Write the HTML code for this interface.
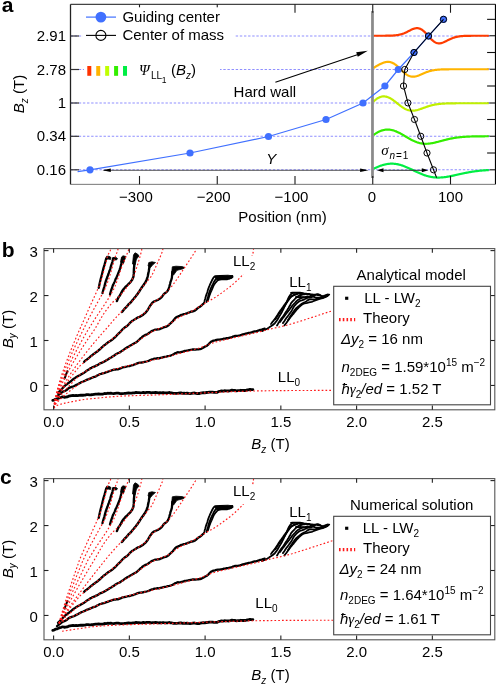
<!DOCTYPE html>
<html><head><meta charset="utf-8"><style>
html,body{margin:0;padding:0;background:#fff;}
svg{display:block;font-family:'Liberation Sans',Arial,Helvetica,sans-serif;}
</style></head><body>
<svg width="496" height="685" viewBox="0 0 496 685">
<rect width="496" height="685" fill="#fff"/>
<line x1="487.1" y1="19.35" x2="495.5" y2="19.35" stroke="#111" stroke-width="1.1"/>
<line x1="487.1" y1="35.75" x2="495.5" y2="35.75" stroke="#111" stroke-width="1.1"/>
<line x1="487.1" y1="52.5" x2="495.5" y2="52.5" stroke="#111" stroke-width="1.1"/>
<line x1="487.1" y1="69.25" x2="495.5" y2="69.25" stroke="#111" stroke-width="1.1"/>
<line x1="487.1" y1="86" x2="495.5" y2="86" stroke="#111" stroke-width="1.1"/>
<line x1="487.1" y1="103" x2="495.5" y2="103" stroke="#111" stroke-width="1.1"/>
<line x1="487.1" y1="119.5" x2="495.5" y2="119.5" stroke="#111" stroke-width="1.1"/>
<line x1="487.1" y1="136.25" x2="495.5" y2="136.25" stroke="#111" stroke-width="1.1"/>
<line x1="487.1" y1="153" x2="495.5" y2="153" stroke="#111" stroke-width="1.1"/>
<line x1="487.1" y1="169.8" x2="495.5" y2="169.8" stroke="#111" stroke-width="1.1"/>
<line x1="70.5" y1="36" x2="491" y2="36" stroke="#8f8fff" stroke-width="1.1" stroke-dasharray="2.4 1.73"/>
<line x1="70.5" y1="69.5" x2="491" y2="69.5" stroke="#8f8fff" stroke-width="1.1" stroke-dasharray="2.4 1.73"/>
<line x1="70.5" y1="103" x2="491" y2="103" stroke="#8f8fff" stroke-width="1.1" stroke-dasharray="2.4 1.73"/>
<line x1="70.5" y1="136.3" x2="491" y2="136.3" stroke="#8f8fff" stroke-width="1.1" stroke-dasharray="2.4 1.73"/>
<line x1="70.5" y1="169.8" x2="491" y2="169.8" stroke="#8f8fff" stroke-width="1.1" stroke-dasharray="2.4 1.73"/>
<polyline points="373.5,35.75 374.08,35.75 374.66,35.75 375.24,35.75 375.82,35.75 376.4,35.75 376.97,35.75 377.55,35.75 378.13,35.75 378.71,35.75 379.29,35.75 379.87,35.75 380.45,35.75 381.03,35.75 381.61,35.74 382.19,35.74 382.77,35.74 383.35,35.74 383.92,35.74 384.5,35.73 385.08,35.73 385.66,35.72 386.24,35.72 386.82,35.71 387.4,35.7 387.98,35.69 388.56,35.68 389.14,35.67 389.72,35.65 390.3,35.64 390.87,35.62 391.45,35.59 392.03,35.56 392.61,35.53 393.19,35.5 393.77,35.45 394.35,35.41 394.93,35.35 395.51,35.29 396.09,35.23 396.67,35.15 397.24,35.07 397.82,34.97 398.4,34.87 398.98,34.76 399.56,34.63 400.14,34.5 400.72,34.35 401.3,34.19 401.88,34.01 402.46,33.83 403.04,33.63 403.62,33.41 404.19,33.19 404.77,32.95 405.35,32.7 405.93,32.44 406.51,32.17 407.09,31.89 407.67,31.61 408.25,31.31 408.83,31.02 409.41,30.73 409.99,30.43 410.57,30.14 411.14,29.86 411.72,29.59 412.3,29.33 412.88,29.09 413.46,28.87 414.04,28.67 414.62,28.5 415.2,28.36 415.78,28.25 416.36,28.18 416.94,28.15 417.52,28.16 418.09,28.21 418.67,28.31 419.25,28.45 419.83,28.65 420.41,28.89 420.99,29.18 421.57,29.51 422.15,29.89 422.73,30.32 423.31,30.78 423.89,31.29 424.46,31.83 425.04,32.4 425.62,33 426.2,33.62 426.78,34.26 427.36,34.91 427.94,35.57 428.52,36.23 429.1,36.89 429.68,37.53 430.26,38.17 430.84,38.78 431.41,39.36 431.99,39.92 432.57,40.45 433.15,40.94 433.73,41.38 434.31,41.79 434.89,42.15 435.47,42.46 436.05,42.73 436.63,42.95 437.21,43.12 437.79,43.24 438.36,43.32 438.94,43.35 439.52,43.34 440.1,43.29 440.68,43.2 441.26,43.08 441.84,42.93 442.42,42.74 443,42.53 443.58,42.3 444.16,42.05 444.73,41.79 445.31,41.51 445.89,41.23 446.47,40.94 447.05,40.64 447.63,40.35 448.21,40.05 448.79,39.77 449.37,39.48 449.95,39.21 450.53,38.94 451.11,38.69 451.68,38.44 452.26,38.21 452.84,37.99 453.42,37.79 454,37.59 454.58,37.41 455.16,37.24 455.74,37.09 456.32,36.94 456.9,36.81 457.48,36.69 458.06,36.59 458.63,36.49 459.21,36.4 459.79,36.32 460.37,36.25 460.95,36.18 461.53,36.12 462.11,36.07 462.69,36.03 463.27,35.99 463.85,35.96 464.43,35.93 465.01,35.9 465.58,35.88 466.16,35.86 466.74,35.84 467.32,35.83 467.9,35.81 468.48,35.8 469.06,35.8 469.64,35.79 470.22,35.78 470.8,35.78 471.38,35.77 471.95,35.77 472.53,35.76 473.11,35.76 473.69,35.76 474.27,35.76 474.85,35.76 475.43,35.76 476.01,35.75 476.59,35.75 477.17,35.75 477.75,35.75 478.33,35.75 478.9,35.75 479.48,35.75 480.06,35.75 480.64,35.75 481.22,35.75 481.8,35.75 482.38,35.75 482.96,35.75 483.54,35.75 484.12,35.75 484.7,35.75 485.28,35.75 485.85,35.75 486.43,35.75 487.01,35.75 487.59,35.75 488.17,35.75 488.75,35.75" fill="none" stroke="#ff3c00" stroke-width="2.2" stroke-linejoin="round"/>
<polyline points="373.5,68.08 374.08,67.67 374.66,67.27 375.24,66.9 375.82,66.53 376.4,66.18 376.97,65.84 377.55,65.51 378.13,65.18 378.71,64.87 379.29,64.56 379.87,64.27 380.45,63.98 381.03,63.71 381.61,63.45 382.19,63.2 382.77,62.96 383.35,62.74 383.92,62.55 384.5,62.37 385.08,62.21 385.66,62.08 386.24,61.97 386.82,61.89 387.4,61.84 387.98,61.82 388.56,61.84 389.14,61.88 389.72,61.97 390.3,62.08 390.87,62.24 391.45,62.43 392.03,62.65 392.61,62.92 393.19,63.22 393.77,63.55 394.35,63.91 394.93,64.31 395.51,64.74 396.09,65.19 396.67,65.67 397.24,66.17 397.82,66.69 398.4,67.23 398.98,67.78 399.56,68.34 400.14,68.9 400.72,69.47 401.3,70.04 401.88,70.6 402.46,71.15 403.04,71.69 403.62,72.22 404.19,72.72 404.77,73.21 405.35,73.67 405.93,74.1 406.51,74.5 407.09,74.88 407.67,75.22 408.25,75.52 408.83,75.79 409.41,76.03 409.99,76.23 410.57,76.39 411.14,76.52 411.72,76.61 412.3,76.67 412.88,76.69 413.46,76.68 414.04,76.64 414.62,76.57 415.2,76.48 415.78,76.36 416.36,76.21 416.94,76.05 417.52,75.87 418.09,75.67 418.67,75.45 419.25,75.23 419.83,74.99 420.41,74.75 420.99,74.5 421.57,74.25 422.15,74 422.73,73.75 423.31,73.5 423.89,73.25 424.46,73 425.04,72.76 425.62,72.53 426.2,72.31 426.78,72.09 427.36,71.88 427.94,71.68 428.52,71.49 429.1,71.31 429.68,71.14 430.26,70.98 430.84,70.82 431.41,70.68 431.99,70.55 432.57,70.43 433.15,70.31 433.73,70.21 434.31,70.11 434.89,70.02 435.47,69.94 436.05,69.87 436.63,69.8 437.21,69.74 437.79,69.68 438.36,69.63 438.94,69.59 439.52,69.55 440.1,69.51 440.68,69.48 441.26,69.45 441.84,69.42 442.42,69.4 443,69.38 443.58,69.36 444.16,69.35 444.73,69.33 445.31,69.32 445.89,69.31 446.47,69.3 447.05,69.3 447.63,69.29 448.21,69.28 448.79,69.28 449.37,69.27 449.95,69.27 450.53,69.27 451.11,69.26 451.68,69.26 452.26,69.26 452.84,69.26 453.42,69.26 454,69.26 454.58,69.25 455.16,69.25 455.74,69.25 456.32,69.25 456.9,69.25 457.48,69.25 458.06,69.25 458.63,69.25 459.21,69.25 459.79,69.25 460.37,69.25 460.95,69.25 461.53,69.25 462.11,69.25 462.69,69.25 463.27,69.25 463.85,69.25 464.43,69.25 465.01,69.25 465.58,69.25 466.16,69.25 466.74,69.25 467.32,69.25 467.9,69.25 468.48,69.25 469.06,69.25 469.64,69.25 470.22,69.25 470.8,69.25 471.38,69.25 471.95,69.25 472.53,69.25 473.11,69.25 473.69,69.25 474.27,69.25 474.85,69.25 475.43,69.25 476.01,69.25 476.59,69.25 477.17,69.25 477.75,69.25 478.33,69.25 478.9,69.25 479.48,69.25 480.06,69.25 480.64,69.25 481.22,69.25 481.8,69.25 482.38,69.25 482.96,69.25 483.54,69.25 484.12,69.25 484.7,69.25 485.28,69.25 485.85,69.25 486.43,69.25 487.01,69.25 487.59,69.25 488.17,69.25 488.75,69.25" fill="none" stroke="#ffb400" stroke-width="2.2" stroke-linejoin="round"/>
<polyline points="373.5,101.6 374.08,101.03 374.66,100.49 375.24,99.98 375.82,99.51 376.4,99.07 376.97,98.67 377.55,98.3 378.13,97.96 378.71,97.65 379.29,97.38 379.87,97.15 380.45,96.94 381.03,96.77 381.61,96.63 382.19,96.52 382.77,96.45 383.35,96.41 383.92,96.4 384.5,96.43 385.08,96.48 385.66,96.57 386.24,96.69 386.82,96.83 387.4,97.01 387.98,97.22 388.56,97.45 389.14,97.71 389.72,98 390.3,98.31 390.87,98.64 391.45,98.99 392.03,99.37 392.61,99.76 393.19,100.17 393.77,100.59 394.35,101.02 394.93,101.47 395.51,101.92 396.09,102.38 396.67,102.85 397.24,103.32 397.82,103.78 398.4,104.25 398.98,104.71 399.56,105.17 400.14,105.61 400.72,106.05 401.3,106.47 401.88,106.89 402.46,107.28 403.04,107.66 403.62,108.02 404.19,108.36 404.77,108.68 405.35,108.98 405.93,109.26 406.51,109.51 407.09,109.74 407.67,109.94 408.25,110.12 408.83,110.28 409.41,110.41 409.99,110.51 410.57,110.59 411.14,110.65 411.72,110.68 412.3,110.7 412.88,110.69 413.46,110.66 414.04,110.61 414.62,110.54 415.2,110.45 415.78,110.34 416.36,110.22 416.94,110.09 417.52,109.94 418.09,109.79 418.67,109.62 419.25,109.44 419.83,109.25 420.41,109.06 420.99,108.86 421.57,108.66 422.15,108.45 422.73,108.24 423.31,108.04 423.89,107.83 424.46,107.62 425.04,107.41 425.62,107.21 426.2,107 426.78,106.81 427.36,106.61 427.94,106.42 428.52,106.24 429.1,106.06 429.68,105.89 430.26,105.72 430.84,105.56 431.41,105.41 431.99,105.26 432.57,105.12 433.15,104.99 433.73,104.86 434.31,104.74 434.89,104.63 435.47,104.52 436.05,104.42 436.63,104.33 437.21,104.24 437.79,104.16 438.36,104.08 438.94,104.01 439.52,103.94 440.1,103.88 440.68,103.82 441.26,103.77 441.84,103.72 442.42,103.68 443,103.63 443.58,103.6 444.16,103.56 444.73,103.53 445.31,103.5 445.89,103.48 446.47,103.45 447.05,103.43 447.63,103.41 448.21,103.39 448.79,103.38 449.37,103.36 449.95,103.35 450.53,103.34 451.11,103.33 451.68,103.32 452.26,103.31 452.84,103.3 453.42,103.3 454,103.29 454.58,103.29 455.16,103.28 455.74,103.28 456.32,103.27 456.9,103.27 457.48,103.27 458.06,103.27 458.63,103.26 459.21,103.26 459.79,103.26 460.37,103.26 460.95,103.26 461.53,103.26 462.11,103.26 462.69,103.25 463.27,103.25 463.85,103.25 464.43,103.25 465.01,103.25 465.58,103.25 466.16,103.25 466.74,103.25 467.32,103.25 467.9,103.25 468.48,103.25 469.06,103.25 469.64,103.25 470.22,103.25 470.8,103.25 471.38,103.25 471.95,103.25 472.53,103.25 473.11,103.25 473.69,103.25 474.27,103.25 474.85,103.25 475.43,103.25 476.01,103.25 476.59,103.25 477.17,103.25 477.75,103.25 478.33,103.25 478.9,103.25 479.48,103.25 480.06,103.25 480.64,103.25 481.22,103.25 481.8,103.25 482.38,103.25 482.96,103.25 483.54,103.25 484.12,103.25 484.7,103.25 485.28,103.25 485.85,103.25 486.43,103.25 487.01,103.25 487.59,103.25 488.17,103.25 488.75,103.25" fill="none" stroke="#c0f000" stroke-width="2.2" stroke-linejoin="round"/>
<polyline points="373.5,135.06 374.08,134.63 374.66,134.22 375.24,133.82 375.82,133.44 376.4,133.08 376.97,132.73 377.55,132.4 378.13,132.09 378.71,131.79 379.29,131.51 379.87,131.26 380.45,131.02 381.03,130.79 381.61,130.59 382.19,130.4 382.77,130.24 383.35,130.09 383.92,129.96 384.5,129.85 385.08,129.75 385.66,129.68 386.24,129.63 386.82,129.59 387.4,129.57 387.98,129.57 388.56,129.59 389.14,129.63 389.72,129.68 390.3,129.76 390.87,129.85 391.45,129.96 392.03,130.08 392.61,130.22 393.19,130.38 393.77,130.55 394.35,130.74 394.93,130.94 395.51,131.16 396.09,131.39 396.67,131.63 397.24,131.89 397.82,132.15 398.4,132.43 398.98,132.72 399.56,133.02 400.14,133.32 400.72,133.64 401.3,133.96 401.88,134.29 402.46,134.62 403.04,134.96 403.62,135.3 404.19,135.65 404.77,135.99 405.35,136.34 405.93,136.69 406.51,137.03 407.09,137.38 407.67,137.72 408.25,138.06 408.83,138.4 409.41,138.73 409.99,139.05 410.57,139.37 411.14,139.68 411.72,139.99 412.3,140.28 412.88,140.57 413.46,140.84 414.04,141.11 414.62,141.36 415.2,141.61 415.78,141.84 416.36,142.06 416.94,142.27 417.52,142.46 418.09,142.64 418.67,142.81 419.25,142.97 419.83,143.11 420.41,143.23 420.99,143.35 421.57,143.45 422.15,143.54 422.73,143.61 423.31,143.67 423.89,143.72 424.46,143.75 425.04,143.77 425.62,143.78 426.2,143.78 426.78,143.77 427.36,143.74 427.94,143.71 428.52,143.66 429.1,143.6 429.68,143.53 430.26,143.46 430.84,143.37 431.41,143.28 431.99,143.18 432.57,143.07 433.15,142.96 433.73,142.84 434.31,142.71 434.89,142.58 435.47,142.44 436.05,142.3 436.63,142.16 437.21,142.01 437.79,141.87 438.36,141.71 438.94,141.56 439.52,141.41 440.1,141.25 440.68,141.09 441.26,140.94 441.84,140.78 442.42,140.63 443,140.47 443.58,140.32 444.16,140.17 444.73,140.02 445.31,139.87 445.89,139.73 446.47,139.58 447.05,139.44 447.63,139.31 448.21,139.17 448.79,139.04 449.37,138.91 449.95,138.79 450.53,138.67 451.11,138.55 451.68,138.44 452.26,138.33 452.84,138.22 453.42,138.12 454,138.02 454.58,137.92 455.16,137.83 455.74,137.74 456.32,137.66 456.9,137.58 457.48,137.5 458.06,137.43 458.63,137.36 459.21,137.29 459.79,137.23 460.37,137.16 460.95,137.11 461.53,137.05 462.11,137 462.69,136.95 463.27,136.9 463.85,136.86 464.43,136.82 465.01,136.78 465.58,136.74 466.16,136.71 466.74,136.67 467.32,136.64 467.9,136.61 468.48,136.59 469.06,136.56 469.64,136.54 470.22,136.52 470.8,136.5 471.38,136.48 471.95,136.46 472.53,136.44 473.11,136.43 473.69,136.41 474.27,136.4 474.85,136.39 475.43,136.38 476.01,136.36 476.59,136.35 477.17,136.35 477.75,136.34 478.33,136.33 478.9,136.32 479.48,136.32 480.06,136.31 480.64,136.3 481.22,136.3 481.8,136.3 482.38,136.29 482.96,136.29 483.54,136.28 484.12,136.28 484.7,136.28 485.28,136.27 485.85,136.27 486.43,136.27 487.01,136.27 487.59,136.27 488.17,136.26 488.75,136.26" fill="none" stroke="#33ee00" stroke-width="2.2" stroke-linejoin="round"/>
<polyline points="373.5,168.78 374.08,168.51 374.66,168.24 375.24,167.97 375.82,167.71 376.4,167.45 376.97,167.2 377.55,166.96 378.13,166.72 378.71,166.48 379.29,166.26 379.87,166.04 380.45,165.83 381.03,165.62 381.61,165.43 382.19,165.24 382.77,165.06 383.35,164.9 383.92,164.74 384.5,164.59 385.08,164.45 385.66,164.32 386.24,164.21 386.82,164.1 387.4,164.01 387.98,163.92 388.56,163.85 389.14,163.79 389.72,163.74 390.3,163.7 390.87,163.68 391.45,163.66 392.03,163.66 392.61,163.67 393.19,163.7 393.77,163.73 394.35,163.78 394.93,163.84 395.51,163.9 396.09,163.99 396.67,164.08 397.24,164.18 397.82,164.3 398.4,164.42 398.98,164.56 399.56,164.71 400.14,164.86 400.72,165.03 401.3,165.2 401.88,165.39 402.46,165.58 403.04,165.78 403.62,165.99 404.19,166.21 404.77,166.44 405.35,166.67 405.93,166.91 406.51,167.15 407.09,167.4 407.67,167.66 408.25,167.92 408.83,168.18 409.41,168.45 409.99,168.72 410.57,168.99 411.14,169.27 411.72,169.54 412.3,169.82 412.88,170.1 413.46,170.38 414.04,170.66 414.62,170.94 415.2,171.22 415.78,171.49 416.36,171.76 416.94,172.04 417.52,172.3 418.09,172.57 418.67,172.83 419.25,173.09 419.83,173.34 420.41,173.59 420.99,173.83 421.57,174.07 422.15,174.3 422.73,174.52 423.31,174.74 423.89,174.95 424.46,175.16 425.04,175.35 425.62,175.54 426.2,175.72 426.78,175.9 427.36,176.06 427.94,176.22 428.52,176.37 429.1,176.51 429.68,176.64 430.26,176.76 430.84,176.87 431.41,176.98 431.99,177.07 432.57,177.16 433.15,177.24 433.73,177.31 434.31,177.37 434.89,177.42 435.47,177.47 436.05,177.5 436.63,177.53 437.21,177.55 437.79,177.56 438.36,177.56 438.94,177.56 439.52,177.54 440.1,177.52 440.68,177.5 441.26,177.46 441.84,177.42 442.42,177.38 443,177.32 443.58,177.26 444.16,177.2 444.73,177.12 445.31,177.05 445.89,176.97 446.47,176.88 447.05,176.79 447.63,176.69 448.21,176.59 448.79,176.49 449.37,176.39 449.95,176.28 450.53,176.16 451.11,176.05 451.68,175.93 452.26,175.81 452.84,175.69 453.42,175.56 454,175.44 454.58,175.31 455.16,175.18 455.74,175.05 456.32,174.92 456.9,174.79 457.48,174.66 458.06,174.53 458.63,174.4 459.21,174.27 459.79,174.14 460.37,174.02 460.95,173.89 461.53,173.76 462.11,173.64 462.69,173.51 463.27,173.39 463.85,173.27 464.43,173.15 465.01,173.03 465.58,172.91 466.16,172.8 466.74,172.69 467.32,172.57 467.9,172.47 468.48,172.36 469.06,172.26 469.64,172.15 470.22,172.05 470.8,171.96 471.38,171.86 471.95,171.77 472.53,171.68 473.11,171.59 473.69,171.51 474.27,171.42 474.85,171.34 475.43,171.26 476.01,171.19 476.59,171.11 477.17,171.04 477.75,170.97 478.33,170.91 478.9,170.84 479.48,170.78 480.06,170.72 480.64,170.66 481.22,170.61 481.8,170.56 482.38,170.5 482.96,170.45 483.54,170.41 484.12,170.36 484.7,170.32 485.28,170.28 485.85,170.23 486.43,170.2 487.01,170.16 487.59,170.12 488.17,170.09 488.75,170.06" fill="none" stroke="#00ee44" stroke-width="2.2" stroke-linejoin="round"/>
<rect x="371.1" y="11.1" width="2.75" height="166.9" fill="#8a8a8a"/>
<line x1="104" y1="170.3" x2="366" y2="170.3" stroke="#444" stroke-width="0.9"/>
<polygon points="102.4,170.2 110.8,168.4 110.8,172" fill="#000"/>
<polygon points="368.5,170.2 360.1,168.4 360.1,172" fill="#000"/>
<line x1="379" y1="170.3" x2="426" y2="170.3" stroke="#333" stroke-width="1"/>
<polygon points="376.9,170.3 383.5,168.3 383.5,172.3" fill="#000"/>
<polygon points="428.4,170.3 421.8,168.3 421.8,172.3" fill="#000"/>
<polyline points="77.6,171.6 90,169.8 190,153 268.5,136.5 326,119.5 363,103 384.9,86 398.25,69.5 414,52.5 428.5,36 443.5,19.35" fill="none" stroke="#4070ff" stroke-width="1.2"/>
<circle cx="90" cy="169.8" r="3.6" fill="#4070ff"/>
<circle cx="190" cy="153" r="3.6" fill="#4070ff"/>
<circle cx="268.5" cy="136.5" r="3.6" fill="#4070ff"/>
<circle cx="326" cy="119.5" r="3.6" fill="#4070ff"/>
<circle cx="363" cy="103" r="3.6" fill="#4070ff"/>
<circle cx="384.9" cy="86" r="3.6" fill="#4070ff"/>
<circle cx="398.25" cy="69.5" r="3.6" fill="#4070ff"/>
<circle cx="414" cy="52.5" r="3.6" fill="#4070ff"/>
<circle cx="428.5" cy="36" r="3.6" fill="#4070ff"/>
<circle cx="443.5" cy="19.35" r="3.6" fill="#4070ff"/>
<polyline points="443.5,19.35 428.5,36 414,52.5 404.75,69.5 403.5,86 407.9,102.9 414.5,119.5 420.75,136.25 427,153 433.5,169.8 436.6,177.6" fill="none" stroke="#000" stroke-width="1.1"/>
<circle cx="443.5" cy="19.35" r="3.1" fill="none" stroke="#000" stroke-width="1"/>
<circle cx="428.5" cy="36" r="3.1" fill="none" stroke="#000" stroke-width="1"/>
<circle cx="414" cy="52.5" r="3.1" fill="none" stroke="#000" stroke-width="1"/>
<circle cx="404.75" cy="69.5" r="3.1" fill="none" stroke="#000" stroke-width="1"/>
<circle cx="403.5" cy="86" r="3.1" fill="none" stroke="#000" stroke-width="1"/>
<circle cx="407.9" cy="102.9" r="3.1" fill="none" stroke="#000" stroke-width="1"/>
<circle cx="414.5" cy="119.5" r="3.1" fill="none" stroke="#000" stroke-width="1"/>
<circle cx="420.75" cy="136.25" r="3.1" fill="none" stroke="#000" stroke-width="1"/>
<circle cx="427" cy="153" r="3.1" fill="none" stroke="#000" stroke-width="1"/>
<circle cx="433.5" cy="169.8" r="3.1" fill="none" stroke="#000" stroke-width="1"/>
<line x1="275.4" y1="82.25" x2="358" y2="54.4" stroke="#000" stroke-width="1.1"/>
<polygon points="367.8,50.8 356.2,52.2 357.8,56.8" fill="#000"/>
<line x1="70.5" y1="4.35" x2="495.5" y2="4.35" stroke="#444" stroke-width="1.2"/>
<line x1="70.5" y1="184.35" x2="495.5" y2="184.35" stroke="#777" stroke-width="1"/>
<line x1="70.5" y1="4.35" x2="70.5" y2="184.35" stroke="#222" stroke-width="1.3"/>
<line x1="495.5" y1="4.35" x2="495.5" y2="184.35" stroke="#000" stroke-width="1.2"/>
<line x1="70.5" y1="36" x2="79.0" y2="36" stroke="#333" stroke-width="1.2"/>
<line x1="70.5" y1="69.5" x2="79.0" y2="69.5" stroke="#333" stroke-width="1.2"/>
<line x1="70.5" y1="103" x2="79.0" y2="103" stroke="#333" stroke-width="1.2"/>
<line x1="70.5" y1="136.3" x2="79.0" y2="136.3" stroke="#333" stroke-width="1.2"/>
<line x1="70.5" y1="169.8" x2="79.0" y2="169.8" stroke="#333" stroke-width="1.2"/>
<line x1="139.5" y1="4.35" x2="139.5" y2="12.75" stroke="#1a1a1a" stroke-width="1.1"/>
<line x1="139.5" y1="184.35" x2="139.5" y2="175.95" stroke="#1a1a1a" stroke-width="1.1"/>
<line x1="217.25" y1="4.35" x2="217.25" y2="12.75" stroke="#1a1a1a" stroke-width="1.1"/>
<line x1="217.25" y1="184.35" x2="217.25" y2="175.95" stroke="#1a1a1a" stroke-width="1.1"/>
<line x1="295" y1="4.35" x2="295" y2="12.75" stroke="#1a1a1a" stroke-width="1.1"/>
<line x1="295" y1="184.35" x2="295" y2="175.95" stroke="#1a1a1a" stroke-width="1.1"/>
<line x1="372.75" y1="4.35" x2="372.75" y2="12.75" stroke="#1a1a1a" stroke-width="1.1"/>
<line x1="372.75" y1="184.35" x2="372.75" y2="175.95" stroke="#1a1a1a" stroke-width="1.1"/>
<line x1="450.5" y1="4.35" x2="450.5" y2="12.75" stroke="#1a1a1a" stroke-width="1.1"/>
<line x1="450.5" y1="184.35" x2="450.5" y2="175.95" stroke="#1a1a1a" stroke-width="1.1"/>
<rect x="83" y="7.3" width="151" height="37" fill="#fff"/>
<rect x="84" y="58" width="136" height="26" fill="#fff"/>
<line x1="86" y1="17.1" x2="116" y2="17.1" stroke="#4070ff" stroke-width="1.2"/>
<circle cx="100.9" cy="17.1" r="5.4" fill="#4070ff"/>
<line x1="86" y1="35.4" x2="116" y2="35.4" stroke="#000" stroke-width="1.1"/>
<circle cx="100.9" cy="35.4" r="5.0" fill="none" stroke="#000" stroke-width="1.1"/>
<rect x="87.30" y="66" width="4" height="9.8" fill="#ff3300"/>
<rect x="96.23" y="66" width="4" height="9.8" fill="#ffb400"/>
<rect x="105.16" y="66" width="4" height="9.8" fill="#c0ff00"/>
<rect x="114.09" y="66" width="4" height="9.8" fill="#33ee00"/>
<rect x="123.02" y="66" width="4" height="9.8" fill="#00ee44"/>
<polyline points="52.75,400.42 54.16,399.96 55.56,399.05 56.97,398.86 58.4,398.28 59.83,397.64 61.28,397.28 62.73,396.79 64.19,397.26 65.67,397.08 67.16,396.95 68.65,396.23 70.14,395.93 71.63,395.67 73.12,395.5 74.61,395.53 76.11,395.51 77.6,395.58 79.1,395.35 80.59,395.27 82.09,395.23 83.58,395.23 85.08,395.04 86.57,394.68 88.07,394.58 89.57,394.85 91.06,394.74 92.56,394.54 94.06,394.32 95.56,394.15 97.06,394.07 98.55,393.99 100.05,394.14 101.55,394.13 103.05,394.04 104.55,393.47 106.05,393.55 107.55,393.25 109.05,393.37 110.55,393.21 112.04,393.41 113.54,393.54 115.04,393.29 116.54,393.15 118.04,393.16 119.54,393.49 121.04,393.56 122.54,393.56 124.04,393.47 125.54,393.3 127.04,393.09 128.54,392.98 130.04,393.07 131.54,393.14 133.04,392.91 134.54,392.83 136.04,392.46 137.54,392.66 139.04,392.68 140.54,392.79 142.04,392.68 143.54,392.45 145.04,392.79 146.54,392.47 148.04,392.46 149.54,392.45 151.04,392.92 152.54,392.73 154.04,392.54 155.54,392.41 157.04,392.64 158.54,392.96 160.04,392.73 161.54,392.88 163.04,392.49 164.54,392.88 166.04,392.84 167.54,392.95 169.04,392.5 170.54,392.78 172.03,392.98 173.53,393.4 175.03,393.37 176.53,393.37 178.03,393.23 179.53,393.02 181.03,392.92 182.53,393.29 184.02,393.26 185.52,393.34 187.02,393.13 188.52,393.42 190.02,393.6 191.52,393.45 193.02,393.14 194.52,393 196.02,393.3 197.52,393.59 199.01,393.51 200.51,393.17 202,392.97 203.5,392.76 204.99,392.79 206.48,392.48 207.97,392.38 209.47,392.1 210.96,392.16 212.45,392.03 213.95,392.31 215.44,392.33 216.94,392.41 218.44,391.62 219.93,391.24 221.43,390.83 222.93,391.13 224.42,390.74 225.92,390.92 227.42,390.92 228.92,390.98 230.41,390.57 231.91,390.2 233.41,390.32 234.91,390.48 236.4,390.82 237.9,390.7 239.4,390.64 240.9,390.27 242.4,390.48 243.89,390.4 245.39,390.5 246.89,389.99 248.39,389.77 249.88,389.36 251.38,389.67 252.88,389.61" fill="none" stroke="#000" stroke-width="2.8" stroke-linejoin="round" stroke-linecap="round"/>
<polyline points="57,396.05 58.22,395.12 59.44,394.21 60.66,393.28 61.9,392.36 63.15,391.53 64.42,391.22 65.72,390.57 67.03,389.69 68.36,388.44 69.69,387.59 71.04,387.08 72.38,386.73 73.74,386.28 75.09,385.61 76.45,384.87 77.81,384.26 79.18,383.36 80.54,382.65 81.91,382.03 83.28,381.52 84.64,380.9 86.01,380.13 87.37,379.58 88.73,379.15 90.1,378.59 91.47,378 92.83,377.38 94.21,376.93 95.58,376.61 96.96,375.58 98.34,375.03 99.73,374.13 101.11,373.89 102.51,373.35 103.91,373.04 105.32,372.67 106.74,372.06 108.16,371.68 109.59,371.03 111.03,370.56 112.47,370.03 113.92,369.59 115.37,369.56 116.83,369.23 118.28,369.28 119.74,368.6 121.2,368.05 122.66,367.41 124.13,367.18 125.59,366.81 127.05,366.5 128.5,366.03 129.96,365.99 131.41,365.46 132.86,365.23 134.3,364.5 135.75,364.05 137.19,363.38 138.64,362.89 140.08,362.64 141.52,362.49 142.96,362.29 144.41,361.95 145.85,361.63 147.3,361.25 148.74,360.79 150.19,360.12 151.65,359.46 153.1,359.19 154.56,358.62 156.03,358.64 157.5,358.22 158.97,358.35 160.44,357.95 161.91,357.55 163.38,357.15 164.86,356.78 166.33,356.58 167.79,356.22 169.25,355.95 170.7,355.55 172.12,354.95 173.5,354.34 174.83,353.36 176.2,352.85 177.63,352.24 179.08,352.35 180.54,352.22 182,351.79 183.47,351.34 184.95,350.84 186.42,350.69 187.89,350.48 189.37,350.16 190.85,349.82 192.34,349.51 193.83,349.41 195.33,349.57 196.82,349.29 198.31,349.24 199.79,349.1 201.25,348.76 202.66,348.06 203.99,347.26 205.25,346.52 206.44,345.98 207.6,345.06 208.75,344.03 209.93,342.74 211.07,341.72 212.15,341.19 213.52,340.69 214.97,340.33 216.45,339.77 217.93,339.56 219.41,339.67 220.9,339.31 222.38,339.22 223.87,338.69 225.35,338.64 226.83,338.1 228.3,338.06 229.77,337.63 231.23,337.46 232.68,336.69 234.14,336.22 235.58,335.92 237.03,335.82 238.48,335.65 239.93,335.36 241.38,334.94 242.84,334.46 244.29,334.04 245.75,333.66 247.2,333.28 248.66,332.9 250.12,332.65 251.57,332.34 253.03,331.82 254.49,331.38 255.94,331.28 257.4,330.94 258.86,330.46 260.32,329.81 261.77,329.67 263.23,329.05 264.69,328.72" fill="none" stroke="#000" stroke-width="2.3" stroke-linejoin="round" stroke-linecap="round"/>
<polyline points="262,331.16 263.36,330.44 264.72,329.92 266.08,329.22 267.42,328.58 268.75,327.75 270.04,326.78 271.29,325.96 272.51,325.24 273.63,324.31 274.66,323.46 275.61,322.11 276.52,321.11 277.39,319.71 278.23,318.25 279.04,316.83 279.82,315.56 280.58,314.38 281.32,313 282.05,311.7 282.73,310.42 283.38,309.03 284.01,307.56 284.63,306.35 285.24,305.1 285.84,303.89 286.45,302.58 287.07,301.27 287.7,299.7 288.36,298.07 289.04,296.73 289.77,295.62 290.63,294.55 291.71,293.57 293.08,292.86 294.57,292.86" fill="none" stroke="#000" stroke-width="1.8" stroke-linejoin="round" stroke-linecap="round"/>
<polyline points="275.4,319.28 276.23,318 277.06,316.59 277.89,315.23 278.72,313.97 279.56,312.74 280.39,311.56 281.23,310.43 282.08,309.29 282.93,308.45 283.79,307.24 284.64,305.95 285.48,304.5 286.33,303.2 287.19,301.97 288.06,300.78 288.95,299.46 289.87,298.04 290.85,296.87 291.91,295.83 293.09,295.36 294.42,294.53 295.85,294.01 297.3,293.65 298.79,293.46 300.29,293.57 301.79,293.42" fill="none" stroke="#000" stroke-width="1.8" stroke-linejoin="round" stroke-linecap="round"/>
<polyline points="277,325.46 277.79,324.18 278.58,322.77 279.38,321.57 280.19,320.23 281.02,319.03 281.88,317.78 282.77,316.88 283.66,315.58 284.54,314.22 285.4,312.83 286.23,311.58 287.03,310.42 287.79,309.08 288.55,307.94 289.31,306.55 290.08,305.24 290.88,303.6 291.72,302.33 292.61,301.29 293.59,300.34 294.63,299.28 295.73,297.99 296.88,297.15 298.08,296.33 299.32,295.5 300.62,294.76 302.03,294.26 303.52,294.35 305.01,294.47" fill="none" stroke="#000" stroke-width="1.8" stroke-linejoin="round" stroke-linecap="round"/>
<polyline points="282.9,323.11 283.77,321.93 284.64,320.76 285.51,319.31 286.38,318.02 287.25,316.9 288.11,315.7 288.98,314.61 289.85,313.35 290.69,312.28 291.49,310.98 292.26,309.63 293.04,308.02 293.84,306.7 294.68,305.54 295.61,304.57 296.63,303.5 297.78,302.42 299.04,301.55 300.37,300.71 301.74,300.28 303.14,299.79 304.55,299.32 305.96,298.55 307.36,297.99 308.79,297.72 310.25,297.54 311.72,297.26" fill="none" stroke="#000" stroke-width="1.8" stroke-linejoin="round" stroke-linecap="round"/>
<polyline points="284.4,325.37 285.27,324.29 286.15,323.24 287.02,321.96 287.91,320.73 288.82,319.49 289.73,318.3 290.66,316.92 291.59,315.84 292.53,314.62 293.5,313.75 294.49,312.27 295.48,311.2 296.45,309.95 297.43,308.98 298.42,307.83 299.46,306.73 300.57,305.81 301.78,304.82 303.08,303.99 304.46,303.46 305.9,303.2 307.35,302.86 308.82,302.45 310.28,302.03 311.75,301.79 313.19,301.27 314.62,300.67 316.05,300.12 317.47,299.64 318.89,299.23 320.31,298.73 321.72,298.39 323.13,297.83 324.54,297.39 325.95,296.64 327.35,296.23" fill="none" stroke="#000" stroke-width="1.8" stroke-linejoin="round" stroke-linecap="round"/>
<polyline points="291,292.9 292.5,292.71 294,292.65 295.5,292.7 297,292.71 298.5,292.59 299.99,292.72 301.49,292.94 302.97,293.2 304.45,293.53 305.92,293.73 307.4,293.91 308.9,293.91 310.39,294.18 311.89,294.39 313.39,294.63 314.89,294.6 316.38,294.68 317.83,295 319.25,295.45 320.69,295.97 322.17,296.11 323.66,295.88 325.11,295.41 326.54,294.88 327.97,294.49" fill="none" stroke="#000" stroke-width="1.8" stroke-linejoin="round" stroke-linecap="round"/>
<polyline points="296,296.93 297.48,297.15 298.96,297.21 300.45,296.94 301.94,297.15 303.43,297.27 304.93,297.39 306.43,297.32 307.91,296.96 309.4,296.85 310.89,296.65 312.39,296.69 313.88,296.98 315.35,297.36 316.82,297.66 318.29,297.7 319.79,297.78 321.28,297.8 322.76,297.56 324.21,297.11 325.66,296.71" fill="none" stroke="#000" stroke-width="1.8" stroke-linejoin="round" stroke-linecap="round"/>
<polyline points="271,323.97 271.86,322.83 272.72,321.65 273.58,320.61 274.44,319.44 275.3,318.24 276.16,316.94 277.02,315.71 277.88,314.48 278.74,313.02 279.58,311.73 280.43,310.43 281.27,309.47 282.12,308.16 282.97,306.97 283.85,305.63 284.75,304.58 285.67,303.36 286.59,302.12 287.52,300.8 288.46,299.58 289.44,298.49 290.47,297.36 291.56,296.41 292.78,295.71 294.14,295.05 295.59,294.62 297.06,294.16" fill="none" stroke="#000" stroke-width="1.8" stroke-linejoin="round" stroke-linecap="round"/>
<polyline points="280,322.05 280.9,320.73 281.79,319.47 282.69,318.2 283.59,317.17 284.49,316.04 285.39,314.8 286.3,313.46 287.2,312.32 288.1,311.31 288.99,310.22 289.9,309 290.82,307.71 291.76,306.41 292.73,305.22 293.73,304.03 294.74,303.05 295.77,301.98 296.84,300.84 297.96,299.92 299.15,299.19 300.45,298.53 301.84,297.91 303.29,297.37 304.76,297.18 306.24,296.76 307.72,296.49" fill="none" stroke="#000" stroke-width="1.8" stroke-linejoin="round" stroke-linecap="round"/>
<polyline points="288,320.11 288.81,318.98 289.61,317.56 290.42,316.3 291.23,314.9 292.06,313.73 292.91,312.45 293.8,311.22 294.75,309.91 295.72,308.69 296.75,307.76 297.82,306.82 298.95,306.01 300.14,305.07 301.36,304.05 302.62,303.23 303.91,302.52 305.23,302 306.58,301.14 307.96,300.06 309.4,299.4 310.86,299.41 312.34,299.47 313.83,299.36 315.32,299.11 316.79,298.8 318.27,298.57 319.74,298.31 321.21,298.17 322.69,297.87" fill="none" stroke="#000" stroke-width="1.8" stroke-linejoin="round" stroke-linecap="round"/>
<polyline points="300,295.48 301.38,294.93 302.75,294.25 304.16,293.94 305.63,293.87 307.11,294.03 308.47,294.3 309.79,294.72 311.17,295.41 312.65,295.87 314.09,295.61 315.47,294.91 316.89,294.25 318.38,294.24 319.76,294.76 321.04,295.73 322.34,296.33 323.77,296.94 325.24,296.68 326.62,296.19 327.93,295.47 329.21,294.61" fill="none" stroke="#000" stroke-width="1.8" stroke-linejoin="round" stroke-linecap="round"/>
<polyline points="58,392.9 59.02,391.8 60.03,390.88 61.05,389.92 62.09,388.8 63.15,387.59 64.25,386.27 65.37,385.27 66.52,384.53 67.69,383.57 68.86,382.85 70.03,381.86 71.22,381.02 72.42,379.75 73.63,378.85 74.84,378.11 76.07,377.18 77.31,376.48 78.56,375.79 79.81,375.29 81.08,374.38 82.36,373.72 83.65,373.08 84.95,372.13 86.26,371.03 87.57,370.09 88.89,369.48 90.21,368.42 91.53,367.85 92.85,367.07 94.18,366.74 95.5,365.91 96.83,365.43 98.15,364.65 99.47,363.85 100.79,363.09 102.11,362.62 103.42,361.97 104.73,361.37 106.04,360.46 107.34,359.68 108.64,358.95 109.94,358.04 111.24,357.52 112.53,356.46 113.83,355.89 115.12,354.79 116.41,353.98 117.7,353.31 118.99,352.75 120.28,352.11 121.56,351.12 122.85,350.38 124.13,349.38 125.41,348.5 126.68,347.62 127.96,346.91 129.23,346.18 130.5,345.39 131.76,344.69 133.02,343.94 134.26,343.36 135.49,342.68 136.71,342.03 137.93,340.9 139.14,339.78 140.35,338.49 141.56,337.55 142.77,336.43 143.98,335.67 145.2,334.97 146.43,334.67 147.67,334.06 148.94,333.01 150.22,332.07 151.53,331.06 152.88,330.66 154.25,329.98 155.66,329.7 157.08,329.5 158.52,329.24 159.97,329.07 161.43,328.34 162.88,327.77 164.32,327.19 165.73,326.94 167.11,326.32 168.43,325.41 169.65,324.08 170.78,323.14 171.82,322.18 172.81,321.26 173.78,320.06 174.77,318.59 175.83,317.6 177,316.87 178.28,316.38 179.63,315.71 181.03,314.86 182.46,314.58 183.9,314.12 185.35,313.91 186.8,313.38 188.25,312.68 189.69,312.28 191.11,311.67 192.5,311.49 193.85,311.04 195.15,310.39 196.43,309.27 197.68,308.18 198.9,307.28 200.12,306.7 201.31,305.65 202.51,304.46 203.7,303.54" fill="none" stroke="#000" stroke-width="2.3" stroke-linejoin="round" stroke-linecap="round"/>
<polyline points="204,303.09 204.4,301.64 204.8,299.97 205.21,298.67 205.63,296.94 206.07,295.64 206.51,294.24 206.96,293.08 207.42,291.71 207.89,289.96 208.38,288.7 208.9,287.14 209.46,285.89 210.05,284.39 210.67,283.05 211.32,281.76 212,280.27 212.72,278.99 213.48,277.6 214.53,276.65 215.91,276.21 217.4,276.12 218.9,276.11 220.4,276.02 221.89,275.99 223.38,276.17 224.87,276.45 226.37,276.52 227.87,276.52 229.37,276.31 230.86,276.11 232.35,275.92" fill="none" stroke="#000" stroke-width="1.8" stroke-linejoin="round" stroke-linecap="round"/>
<polyline points="206.5,301.98 206.89,300.54 207.28,299.15 207.69,297.7 208.11,296.26 208.57,294.52 209.06,293.16 209.56,291.6 210.08,290.32 210.62,288.91 211.18,287.69 211.77,286.5 212.37,285.21 213.01,283.91 213.7,282.41 214.48,281.07 215.35,279.7 216.41,278.48 217.76,277.86 219.23,277.84 220.73,278 222.23,277.95 223.73,277.99 225.22,278.06 226.7,278.24 228.2,278.08 229.69,277.92 231.13,277.53 232.51,277.07" fill="none" stroke="#000" stroke-width="1.8" stroke-linejoin="round" stroke-linecap="round"/>
<polyline points="208,300.18 208.49,298.66 208.98,296.98 209.48,295.56 209.99,294.09 210.52,292.76 211.07,291.45 211.64,290.27 212.21,288.93 212.82,287.36 213.48,285.81 214.19,284.56 214.96,283.51 215.84,282.31 216.87,281.12 218.06,280.1 219.44,279.72 220.91,279.46 222.41,279.39 223.91,279.41 225.41,279.42 226.9,279.32 228.38,278.87 229.85,278.55" fill="none" stroke="#000" stroke-width="1.8" stroke-linejoin="round" stroke-linecap="round"/>
<polyline points="84,361.93 85.09,360.65 86.17,360.1 87.26,359.3 88.35,358.56 89.46,357.45 90.58,356.36 91.73,355.53 92.9,354.54 94.09,353.74 95.28,352.77 96.48,352.02 97.68,351.19 98.86,350.06 100.04,349.23 101.21,347.94 102.38,346.99 103.55,345.75 104.72,345.02 105.89,344.06 107.07,343.3 108.25,342.13 109.42,341.5 110.59,340.82 111.74,340.06 112.87,339.17 114,337.99 115.13,337.29 116.24,336.05 117.36,334.73 118.47,333.62 119.57,332.56 120.66,331.62 121.76,330.28 122.87,329.04 123.99,328.17 125.11,327.11 126.23,326.59 127.36,325.72 128.49,324.64 129.63,323.22 130.77,322.07 131.94,321.09 133.13,320.39 134.35,319.59 135.6,318.93 136.86,318.06 138.13,317.34 139.4,316.86 140.65,316.34 141.94,315.51 143.24,314.67 144.48,313.5 145.64,312.6 146.65,311.23 147.55,310.24 148.36,308.74 149.14,307.45 149.92,306.06 150.71,305.06 151.58,303.76 152.55,302.54 153.72,301.55 155.05,301.1 156.45,300.52 157.84,299.95 159.11,299.08 160.27,298.47 161.35,297.5 162.4,296.26 163.43,294.63 164.48,293.5 165.55,292.82 166.58,292.09 167.53,291.05 168.33,289.53 168.92,287.92 169.36,286.47 169.73,285.1 170.06,283.94 170.43,282.17 170.93,280.77 171.53,279.2 171.82,278.06 171.99,276.46 172.12,274.96 172.22,273.26 172.33,271.85" fill="none" stroke="#000" stroke-width="2.3" stroke-linejoin="round" stroke-linecap="round"/>
<polyline points="121.9,312.09 122.92,310.88 123.95,309.45 124.98,308.19 126,307.43 127.01,306.2 128.01,305.11 129,303.86 129.98,303.17 130.94,302.13 131.89,300.99 132.84,299.76 133.78,298.77 134.72,297.49 135.65,296.44 136.57,295.15 137.49,294.18 138.4,292.58 139.29,291.49 140.17,289.85 141.04,288.57 141.9,287.28 142.75,286.11 143.58,285.15 144.38,283.65 145.15,282.73 145.87,281.35 146.54,280 147.1,278.39 147.53,277.09 147.86,275.68 148.12,274.25 148.37,272.95 148.67,271.73 148.94,270.17 149.19,268.3 149.43,266.68" fill="none" stroke="#000" stroke-width="2.4" stroke-linejoin="round" stroke-linecap="round"/>
<polyline points="116.9,301.12 117.59,299.35 118.27,297.82 118.94,296.55 119.63,295.93 120.34,294.73 121.07,293.44 121.83,291.71 122.63,290.49 123.49,289.29 124.42,288.2 125.41,286.99 126.43,286.02 127.47,285.04 128.5,283.99 129.52,283.07 130.5,282.17 131.41,280.72 132.23,279.65 132.87,278.07 133.34,277.08 133.62,275.11 133.77,273.65 133.83,271.99 133.86,270.62 133.92,269.2 134.05,267.77 134.2,266.11 134.33,264.47 134.44,262.99 134.55,261.75 134.66,260.22 134.76,258.6" fill="none" stroke="#000" stroke-width="2.4" stroke-linejoin="round" stroke-linecap="round"/>
<polyline points="110,294.36 110.44,292.77 110.87,291.18 111.3,290 111.75,288.68 112.21,287.46 112.7,285.69 113.23,284.54 113.81,283.41 114.42,282.12 115.05,280.64 115.69,278.9 116.31,277.84 116.91,276.53 117.5,275.13 118.08,273.67 118.65,272.2 119.22,271 119.75,269.46 120.24,267.89 120.66,266.31 121.01,264.89 121.29,263.51 121.54,261.97 121.76,260.7 122,259.21" fill="none" stroke="#000" stroke-width="2.3" stroke-linejoin="round" stroke-linecap="round"/>
<polyline points="102.5,293.01 102.89,291.46 103.27,290.15 103.66,288.93 104.05,287.62 104.46,286.2 104.88,284.39 105.31,282.87 105.77,281.24 106.24,280.04 106.72,278.75 107.21,277.09 107.7,276.14 108.19,274.52 108.68,273.46 109.19,271.7 109.69,270.55 110.2,269.12 110.69,267.14 111.18,265.43 111.64,264.08 112.07,262.94 112.48,261.5 112.86,259.58 113.23,258.26" fill="none" stroke="#000" stroke-width="2.3" stroke-linejoin="round" stroke-linecap="round"/>
<polyline points="98.75,287.77 99.09,286.18 99.42,284.52 99.76,282.96 100.1,281.47 100.45,279.99 100.81,278.58 101.16,277.38 101.52,276.15 101.88,274.66 102.25,273.05 102.62,271.47 103,269.92 103.39,268.35 103.8,267.02 104.22,265.61 104.64,264.38 105.06,262.87 105.46,261.31 105.87,259.95 106.27,258.4" fill="none" stroke="#000" stroke-width="2.3" stroke-linejoin="round" stroke-linecap="round"/>
<polyline points="64.5,378.56 65.09,377.24 65.68,375.68 66.27,373.99 66.86,372.51 67.45,371.24" fill="none" stroke="#000" stroke-width="2.0" stroke-linejoin="round" stroke-linecap="round"/>
<polygon points="105.8,259.5 106.5,256.3 109,256.2 111,257.5 110.5,259.5 108,259" fill="#000" stroke="#000" stroke-width="0.8" stroke-linejoin="round"/>
<polygon points="112.5,260 113.2,257.6 116,257.4 117.5,258.5 116.5,260 114,259.8" fill="#000" stroke="#000" stroke-width="0.8" stroke-linejoin="round"/>
<polygon points="120.8,262 121.5,257 123,255.8 126,256.5 125,259 123.5,263.5" fill="#000" stroke="#000" stroke-width="0.8" stroke-linejoin="round"/>
<polygon points="132.5,264 133.5,255 135,252.8 137.5,254 139,256 136.5,259 135,265" fill="#000" stroke="#000" stroke-width="0.8" stroke-linejoin="round"/>
<polygon points="148,266 148.8,262.5 152,261.8 155.5,262.5 153,264.5 150.5,267.5" fill="#000" stroke="#000" stroke-width="0.8" stroke-linejoin="round"/>
<polygon points="171.6,274 172.3,266.8 176,266.2 182,266.6 184.8,267.5 183,268.8 177,270.3 173.6,275" fill="#000" stroke="#000" stroke-width="0.8" stroke-linejoin="round"/>
<polygon points="214,276.3 220,275.5 228,275.2 233,276 232,278.3 224,279.3 217,280" fill="#000" stroke="#000" stroke-width="0.8" stroke-linejoin="round"/>
<polyline points="53.7,408 53.87,406.71 54.12,404.85 54.41,402.77 54.73,400.8 55.09,398.99 55.48,397.19 55.9,395.39 56.33,393.59 56.78,391.79 57.26,389.99 57.75,388.19 58.25,386.39 58.77,384.59 59.3,382.78 59.85,380.98 60.41,379.18 60.98,377.38 61.57,375.58 62.16,373.78 62.77,371.98 63.39,370.18 64.02,368.37 64.66,366.57 65.3,364.77 65.96,362.97 66.63,361.17 67.3,359.37 67.99,357.57 68.68,355.77 69.38,353.97 70.09,352.16 70.81,350.36 71.54,348.56 72.27,346.76 73.01,344.96 73.76,343.16 74.51,341.36 75.28,339.56 76.05,337.76 76.82,335.95 77.57,334.25 78.29,332.61 79.08,330.84 80,328.75 81.12,326.22 82.39,323.38 83.71,320.41 85,317.5 86.22,314.75 87.42,312.03 88.66,309.24 90,306.25 91.53,302.87 93.2,299.22 94.83,295.64 96.25,292.5 97.35,290.11 98.24,288.2 99.08,286.26 100,283.75 101.08,280.38 102.24,276.48 103.38,272.47 104.4,268.75 105.28,265.27 106.07,261.88 106.8,258.79 107.5,256.25 108.21,254.41 108.91,253.11 109.52,252.13 110,251.25 110.3,250.44 110.46,249.81 110.54,249.34 110.6,249" fill="none" stroke="#ff1a1a" stroke-width="1.15" stroke-dasharray="1.7 2.1"/>
<polyline points="53.7,408 53.9,406.71 54.18,404.85 54.51,402.77 54.88,400.8 55.28,398.99 55.73,397.19 56.21,395.39 56.71,393.59 57.22,391.79 57.76,389.99 58.32,388.19 58.9,386.39 59.49,384.59 60.1,382.78 60.73,380.98 61.37,379.18 62.02,377.38 62.69,375.58 63.37,373.78 64.07,371.98 64.77,370.18 65.49,368.37 66.22,366.57 66.96,364.77 67.71,362.97 68.47,361.17 69.24,359.37 70.02,357.57 70.82,355.77 71.62,353.97 72.43,352.16 73.25,350.36 74.08,348.56 74.92,346.76 75.76,344.96 76.62,343.16 77.48,341.36 78.35,339.56 79.23,337.76 80.12,335.95 80.96,334.28 81.76,332.68 82.66,330.92 83.75,328.75 85.1,326.03 86.63,322.91 88.29,319.59 90,316.25 91.79,312.9 93.67,309.45 95.6,305.97 97.5,302.5 99.43,299.06 101.41,295.62 103.3,292.19 105,288.75 106.43,285.4 107.66,282.11 108.81,278.7 110,275 111.31,270.62 112.66,265.78 113.93,261.17 115,257.5 115.85,255.05 116.53,253.42 117.07,252.27 117.5,251.25 117.78,250.35 117.91,249.73 117.96,249.31 118,249" fill="none" stroke="#ff1a1a" stroke-width="1.15" stroke-dasharray="1.7 2.1"/>
<polyline points="53.7,408 53.93,406.71 54.26,404.85 54.65,402.77 55.08,400.8 55.55,398.99 56.07,397.19 56.63,395.39 57.21,393.59 57.81,391.79 58.44,389.99 59.09,388.19 59.77,386.39 60.46,384.59 61.17,382.78 61.9,380.98 62.65,379.18 63.41,377.38 64.19,375.58 64.98,373.78 65.79,371.98 66.61,370.18 67.45,368.37 68.3,366.57 69.16,364.77 70.04,362.97 70.93,361.17 71.83,359.37 72.74,357.57 73.66,355.77 74.6,353.97 75.55,352.16 76.5,350.36 77.47,348.56 78.45,346.76 79.43,344.96 80.43,343.16 81.44,341.36 82.46,339.56 83.48,337.76 84.52,335.95 85.46,334.31 86.34,332.76 87.37,331.01 88.75,328.75 90.59,325.8 92.76,322.36 95.12,318.68 97.5,315 99.97,311.31 102.58,307.5 105.15,303.69 107.5,300 109.56,296.62 111.44,293.44 113.22,290.1 115,286.25 116.81,281.57 118.59,276.33 120.33,271.04 122,266.25 123.72,261.85 125.46,257.64 126.99,253.99 128.1,251.25 128.63,249.74 128.73,249.19 128.64,249.11 128.6,249" fill="none" stroke="#ff1a1a" stroke-width="1.15" stroke-dasharray="1.7 2.1"/>
<polyline points="53.7,408 53.97,406.71 54.35,404.85 54.82,402.77 55.32,400.8 55.88,398.99 56.49,397.19 57.15,395.39 57.83,393.59 58.54,391.79 59.29,389.99 60.06,388.19 60.85,386.39 61.66,384.59 62.5,382.78 63.36,380.98 64.24,379.18 65.14,377.38 66.06,375.58 66.99,373.78 67.95,371.98 68.91,370.18 69.9,368.37 70.9,366.57 71.92,364.77 72.95,362.97 74,361.17 75.06,359.37 76.14,357.57 77.22,355.77 78.33,353.97 79.44,352.16 80.57,350.36 81.71,348.56 82.86,346.76 84.02,344.96 85.2,343.16 86.39,341.36 87.58,339.56 88.79,337.76 90.01,335.95 91.16,334.34 92.26,332.84 93.48,331.1 95,328.75 96.92,325.46 99.14,321.5 101.47,317.42 103.75,313.75 105.96,310.58 108.17,307.64 110.37,304.95 112.5,302.5 114.59,300.42 116.64,298.66 118.62,297 120.5,295.2 122.25,293.21 123.91,291.16 125.48,289.07 127,287 128.46,285.07 129.84,283.22 131.18,281.2 132.5,278.75 133.81,275.68 135.11,272.18 136.35,268.52 137.5,265 138.6,261.44 139.66,257.77 140.57,254.44 141.25,251.9 141.61,250.39 141.71,249.63 141.7,249.28 141.7,249" fill="none" stroke="#ff1a1a" stroke-width="1.15" stroke-dasharray="1.7 2.1"/>
<polyline points="53.7,408 54.04,406.71 54.53,404.85 55.12,402.77 55.76,400.8 56.47,398.99 57.25,397.19 58.09,395.39 58.96,393.59 59.86,391.79 60.81,389.99 61.79,388.19 62.8,386.39 63.83,384.59 64.9,382.78 65.99,380.98 67.11,379.18 68.25,377.38 69.42,375.58 70.61,373.78 71.83,371.98 73.06,370.18 74.31,368.37 75.59,366.57 76.88,364.77 78.2,362.97 79.53,361.17 80.88,359.37 82.25,357.57 83.63,355.77 85.03,353.97 86.45,352.16 87.89,350.36 89.34,348.56 90.8,346.76 92.28,344.96 93.78,343.16 95.29,341.36 96.81,339.56 98.35,337.76 99.91,335.95 101.45,334.19 102.99,332.45 104.58,330.66 106.25,328.75 108.03,326.67 109.88,324.47 111.8,322.22 113.75,320 115.68,317.89 117.61,315.82 119.67,313.66 122,311.25 124.82,308.44 128,305.35 131.12,302.24 133.75,299.4 135.66,296.96 137.1,294.74 138.44,292.58 140,290.3 141.99,287.73 144.2,285.01 146.33,282.4 148.1,280.2 149.33,278.71 150.21,277.72 151.01,276.66 152,275 153.28,272.45 154.7,269.36 156.14,266.09 157.5,263 158.83,259.99 160.16,256.94 161.33,254.16 162.2,252 162.65,250.62 162.79,249.81 162.79,249.35 162.8,249" fill="none" stroke="#ff1a1a" stroke-width="1.15" stroke-dasharray="1.7 2.1"/>
<polyline points="53.7,408 53.93,407.16 54.25,405.95 54.63,404.59 55.05,403.31 55.52,402.14 56.03,400.97 56.58,399.79 57.15,398.62 57.74,397.45 58.36,396.28 59.01,395.11 59.67,393.93 60.35,392.76 61.05,391.59 61.77,390.42 62.5,389.24 63.25,388.07 64.02,386.9 64.8,385.73 65.59,384.56 66.4,383.38 67.23,382.21 68.06,381.04 68.91,379.87 69.78,378.69 70.65,377.52 71.54,376.35 72.43,375.18 73.34,374.01 74.26,372.83 75.19,371.66 76.13,370.49 77.09,369.28 78.05,368.06 79.02,366.87 80,365.8 80.74,365.09 81.32,364.64 82.24,363.94 84,362.5 86.98,359.96 90.84,356.67 94.97,353.16 98.75,350 102.03,347.35 105.14,344.92 108.18,342.53 111.25,340 114.46,337.19 117.73,334.22 120.89,331.33 123.75,328.75 126.23,326.55 128.44,324.61 130.49,322.86 132.5,321.25 134.49,319.82 136.41,318.58 138.24,317.43 140,316.25 141.66,315.09 143.23,313.98 144.74,312.79 146.25,311.4 147.69,309.71 149.06,307.81 150.49,305.85 152.1,304 153.95,302.33 155.95,300.74 158.06,299.14 160.2,297.4 162.44,295.5 164.78,293.49 167.08,291.41 169.2,289.3 171.05,287.19 172.72,285.05 174.34,282.84 176,280.5 177.74,277.99 179.49,275.36 181.25,272.66 183,270 184.79,267.33 186.6,264.62 188.36,261.98 190,259.5 191.58,257.08 193.1,254.72 194.43,252.62 195.4,251 195.9,250 196.04,249.47 196,249.21 196,249" fill="none" stroke="#ff1a1a" stroke-width="1.15" stroke-dasharray="1.7 2.1"/>
<polyline points="53.7,408 53.94,407.32 54.28,406.34 54.68,405.24 55.13,404.19 55.62,403.24 56.16,402.29 56.75,401.34 57.35,400.39 57.98,399.44 58.63,398.49 59.31,397.53 60.01,396.58 60.73,395.63 61.47,394.68 62.23,393.73 63,392.78 63.8,391.83 64.61,390.88 65.43,389.92 66.27,388.97 67.13,388.02 68,387.07 68.88,386.12 69.78,385.17 70.69,384.22 71.62,383.26 72.55,382.31 73.5,381.36 74.46,380.41 75.43,379.46 76.42,378.51 77.41,377.56 77.93,376.84 78.14,376.27 79,375.4 81.5,373.75 86.28,371.03 92.69,367.54 99.76,363.72 106.5,360 112.87,356.4 119.31,352.73 125.6,349.07 131.5,345.5 136.93,341.9 142.03,338.28 146.86,334.89 151.5,332 156.02,329.79 160.38,328.09 164.41,326.6 168,325 170.84,323.26 173.09,321.53 175.3,319.79 178,318 181.48,316.15 185.41,314.26 189.38,312.36 193,310.5 196.14,308.67 199.03,306.85 201.78,305.08 204.5,303.4 207.21,301.87 209.84,300.44 212.43,299.02 215,297.5 217.54,295.85 220.03,294.13 222.51,292.35 225,290.5 227.51,288.62 230.03,286.69 232.54,284.66 235,282.5 237.5,280.15 240.03,277.66 242.42,275.08 244.5,272.5 246.21,269.88 247.66,267.19 248.89,264.53 250,262 250.98,259.53 251.81,257.09 252.48,254.86 253,253 253.31,251.55 253.44,250.44 253.47,249.6 253.5,249" fill="none" stroke="#ff1a1a" stroke-width="1.15" stroke-dasharray="1.7 2.1"/>
<polyline points="53.7,408 53.94,407.49 54.28,406.76 54.68,405.94 55.13,405.17 55.62,404.46 56.16,403.75 56.75,403.04 57.35,402.33 57.98,401.62 58.63,400.92 59.31,400.21 60.01,399.5 60.73,398.79 61.47,398.08 62.23,397.38 63,396.67 63.8,395.96 64.61,395.25 65.43,394.54 66.27,393.83 67.13,393.12 68,392.42 68.88,391.71 69.78,391 70.69,390.29 71.62,389.58 72.55,388.88 73.5,388.17 74.46,387.46 75.43,386.75 76.42,386.04 77.41,385.33 77.93,384.81 78.14,384.41 79,383.76 81.5,382.5 86.28,380.29 92.69,377.4 99.76,374.39 106.5,371.8 112.48,369.87 118.28,368.26 124.44,366.73 131.5,365 139.92,363 149.31,360.87 158.92,358.68 168,356.5 176.74,354.26 185.41,351.95 193.37,349.74 200,347.8 204.59,346.23 207.67,344.93 210.41,343.73 214,342.5 218.81,341.2 224.2,339.92 229.81,338.65 235.3,337.4 240.79,336.15 246.39,334.9 251.74,333.7 256.5,332.6 260.22,331.68 263.2,330.88 266.21,330.07 270,329.1 274.46,328.08 279.28,327.03 284.96,325.69 292,323.75 301.88,320.68 313.88,316.79 325.19,313.07 333,310.5" fill="none" stroke="#ff1a1a" stroke-width="1.15" stroke-dasharray="1.7 2.1"/>
<polyline points="53.7,408 54.25,407.53 55.04,406.86 55.98,406.13 57,405.5 58.08,405.01 59.27,404.59 60.57,404.19 62,403.8 63.42,403.44 64.88,403.12 66.64,402.76 69,402.3 72.3,401.65 76.31,400.87 80.41,400.1 84,399.5 86.5,399.15 88.38,398.97 90.56,398.8 94,398.5 98.63,398.01 104.06,397.42 110.71,396.81 119,396.25 128.72,395.82 139.75,395.45 152.66,395.05 168,394.5 186.84,393.68 208.56,392.68 231.26,391.71 253,391 275.23,390.63 298.31,390.48 318.74,390.44 333,390.4" fill="none" stroke="#ff1a1a" stroke-width="1.15" stroke-dasharray="1.7 2.1"/>
<rect x="232" y="256" width="26" height="18" fill="#fff"/>
<rect x="44" y="248.6" width="450.8" height="161.20000000000002" fill="none" stroke="#555" stroke-width="1.1"/>
<line x1="44" y1="385.45" x2="48.5" y2="385.45" stroke="#222" stroke-width="1.1"/>
<line x1="490.5" y1="385.45" x2="494.8" y2="385.45" stroke="#222" stroke-width="1.1"/>
<line x1="44" y1="340.5" x2="48.5" y2="340.5" stroke="#222" stroke-width="1.1"/>
<line x1="490.5" y1="340.5" x2="494.8" y2="340.5" stroke="#222" stroke-width="1.1"/>
<line x1="44" y1="295.55" x2="48.5" y2="295.55" stroke="#222" stroke-width="1.1"/>
<line x1="490.5" y1="295.55" x2="494.8" y2="295.55" stroke="#222" stroke-width="1.1"/>
<line x1="44" y1="250.6" x2="48.5" y2="250.6" stroke="#222" stroke-width="1.1"/>
<line x1="490.5" y1="250.6" x2="494.8" y2="250.6" stroke="#222" stroke-width="1.1"/>
<line x1="53.6" y1="409.8" x2="53.6" y2="405.6" stroke="#222" stroke-width="1.1"/>
<line x1="53.6" y1="248.6" x2="53.6" y2="252.79999999999998" stroke="#222" stroke-width="1.1"/>
<line x1="129.35" y1="409.8" x2="129.35" y2="405.6" stroke="#222" stroke-width="1.1"/>
<line x1="129.35" y1="248.6" x2="129.35" y2="252.79999999999998" stroke="#222" stroke-width="1.1"/>
<line x1="205.1" y1="409.8" x2="205.1" y2="405.6" stroke="#222" stroke-width="1.1"/>
<line x1="205.1" y1="248.6" x2="205.1" y2="252.79999999999998" stroke="#222" stroke-width="1.1"/>
<line x1="280.85" y1="409.8" x2="280.85" y2="405.6" stroke="#222" stroke-width="1.1"/>
<line x1="280.85" y1="248.6" x2="280.85" y2="252.79999999999998" stroke="#222" stroke-width="1.1"/>
<line x1="356.6" y1="409.8" x2="356.6" y2="405.6" stroke="#222" stroke-width="1.1"/>
<line x1="356.6" y1="248.6" x2="356.6" y2="252.79999999999998" stroke="#222" stroke-width="1.1"/>
<line x1="432.35" y1="409.8" x2="432.35" y2="405.6" stroke="#222" stroke-width="1.1"/>
<line x1="432.35" y1="248.6" x2="432.35" y2="252.79999999999998" stroke="#222" stroke-width="1.1"/>
<rect x="333.7" y="286.3" width="156.8" height="118.5" fill="#fff" stroke="#444" stroke-width="1.1"/>
<rect x="345.1" y="296.7" width="3.2" height="3.1" fill="#000"/>
<line x1="339" y1="319.55" x2="355.2" y2="319.55" stroke="#ff1a1a" stroke-width="3.3" stroke-dasharray="1.6 2.15"/>
<polyline points="52.75,630.42 54.16,629.96 55.56,629.05 56.97,628.86 58.4,628.28 59.83,627.64 61.28,627.28 62.73,626.79 64.19,627.26 65.67,627.08 67.16,626.95 68.65,626.23 70.14,625.93 71.63,625.67 73.12,625.5 74.61,625.53 76.11,625.51 77.6,625.58 79.1,625.35 80.59,625.27 82.09,625.23 83.58,625.23 85.08,625.04 86.57,624.68 88.07,624.58 89.57,624.85 91.06,624.74 92.56,624.54 94.06,624.32 95.56,624.15 97.06,624.07 98.55,623.99 100.05,624.14 101.55,624.13 103.05,624.04 104.55,623.47 106.05,623.55 107.55,623.25 109.05,623.37 110.55,623.21 112.04,623.41 113.54,623.54 115.04,623.29 116.54,623.15 118.04,623.16 119.54,623.49 121.04,623.56 122.54,623.56 124.04,623.47 125.54,623.3 127.04,623.09 128.54,622.98 130.04,623.07 131.54,623.14 133.04,622.91 134.54,622.83 136.04,622.46 137.54,622.66 139.04,622.68 140.54,622.79 142.04,622.68 143.54,622.45 145.04,622.79 146.54,622.47 148.04,622.46 149.54,622.45 151.04,622.92 152.54,622.73 154.04,622.54 155.54,622.41 157.04,622.64 158.54,622.96 160.04,622.73 161.54,622.88 163.04,622.49 164.54,622.88 166.04,622.84 167.54,622.95 169.04,622.5 170.54,622.78 172.03,622.98 173.53,623.4 175.03,623.37 176.53,623.37 178.03,623.23 179.53,623.02 181.03,622.92 182.53,623.29 184.02,623.26 185.52,623.34 187.02,623.13 188.52,623.42 190.02,623.6 191.52,623.45 193.02,623.14 194.52,623 196.02,623.3 197.52,623.59 199.01,623.51 200.51,623.17 202,622.97 203.5,622.76 204.99,622.79 206.48,622.48 207.97,622.38 209.47,622.1 210.96,622.16 212.45,622.03 213.95,622.31 215.44,622.33 216.94,622.41 218.44,621.62 219.93,621.24 221.43,620.83 222.93,621.13 224.42,620.74 225.92,620.92 227.42,620.92 228.92,620.98 230.41,620.57 231.91,620.2 233.41,620.32 234.91,620.48 236.4,620.82 237.9,620.7 239.4,620.64 240.9,620.27 242.4,620.48 243.89,620.4 245.39,620.5 246.89,619.99 248.39,619.77 249.88,619.36 251.38,619.67 252.88,619.61" fill="none" stroke="#000" stroke-width="2.8" stroke-linejoin="round" stroke-linecap="round"/>
<polyline points="57,626.05 58.22,625.12 59.44,624.21 60.66,623.28 61.9,622.36 63.15,621.53 64.42,621.22 65.72,620.57 67.03,619.69 68.36,618.44 69.69,617.59 71.04,617.08 72.38,616.73 73.74,616.28 75.09,615.61 76.45,614.87 77.81,614.26 79.18,613.36 80.54,612.65 81.91,612.03 83.28,611.52 84.64,610.9 86.01,610.13 87.37,609.58 88.73,609.15 90.1,608.59 91.47,608 92.83,607.38 94.21,606.93 95.58,606.61 96.96,605.58 98.34,605.03 99.73,604.13 101.11,603.89 102.51,603.35 103.91,603.04 105.32,602.67 106.74,602.06 108.16,601.68 109.59,601.03 111.03,600.56 112.47,600.03 113.92,599.59 115.37,599.56 116.83,599.23 118.28,599.28 119.74,598.6 121.2,598.05 122.66,597.41 124.13,597.18 125.59,596.81 127.05,596.5 128.5,596.03 129.96,595.99 131.41,595.46 132.86,595.23 134.3,594.5 135.75,594.05 137.19,593.38 138.64,592.89 140.08,592.64 141.52,592.49 142.96,592.29 144.41,591.95 145.85,591.63 147.3,591.25 148.74,590.79 150.19,590.12 151.65,589.46 153.1,589.19 154.56,588.62 156.03,588.64 157.5,588.22 158.97,588.35 160.44,587.95 161.91,587.55 163.38,587.15 164.86,586.78 166.33,586.58 167.79,586.22 169.25,585.95 170.7,585.55 172.12,584.95 173.5,584.34 174.83,583.36 176.2,582.85 177.63,582.24 179.08,582.35 180.54,582.22 182,581.79 183.47,581.34 184.95,580.84 186.42,580.69 187.89,580.48 189.37,580.16 190.85,579.82 192.34,579.51 193.83,579.41 195.33,579.57 196.82,579.29 198.31,579.24 199.79,579.1 201.25,578.76 202.66,578.06 203.99,577.26 205.25,576.52 206.44,575.98 207.6,575.06 208.75,574.03 209.93,572.74 211.07,571.72 212.15,571.19 213.52,570.69 214.97,570.33 216.45,569.77 217.93,569.56 219.41,569.67 220.9,569.31 222.38,569.22 223.87,568.69 225.35,568.64 226.83,568.1 228.3,568.06 229.77,567.63 231.23,567.46 232.68,566.69 234.14,566.22 235.58,565.92 237.03,565.82 238.48,565.65 239.93,565.36 241.38,564.94 242.84,564.46 244.29,564.04 245.75,563.66 247.2,563.28 248.66,562.9 250.12,562.65 251.57,562.34 253.03,561.82 254.49,561.38 255.94,561.28 257.4,560.94 258.86,560.46 260.32,559.81 261.77,559.67 263.23,559.05 264.69,558.72" fill="none" stroke="#000" stroke-width="2.3" stroke-linejoin="round" stroke-linecap="round"/>
<polyline points="262,561.16 263.36,560.44 264.72,559.92 266.08,559.22 267.42,558.58 268.75,557.75 270.04,556.78 271.29,555.96 272.51,555.24 273.63,554.31 274.66,553.46 275.61,552.11 276.52,551.11 277.39,549.71 278.23,548.25 279.04,546.83 279.82,545.56 280.58,544.38 281.32,543 282.05,541.7 282.73,540.42 283.38,539.03 284.01,537.56 284.63,536.35 285.24,535.1 285.84,533.89 286.45,532.58 287.07,531.27 287.7,529.7 288.36,528.07 289.04,526.73 289.77,525.62 290.63,524.55 291.71,523.57 293.08,522.86 294.57,522.86" fill="none" stroke="#000" stroke-width="1.8" stroke-linejoin="round" stroke-linecap="round"/>
<polyline points="275.4,549.28 276.23,548 277.06,546.59 277.89,545.23 278.72,543.97 279.56,542.74 280.39,541.56 281.23,540.43 282.08,539.29 282.93,538.45 283.79,537.24 284.64,535.95 285.48,534.5 286.33,533.2 287.19,531.97 288.06,530.78 288.95,529.46 289.87,528.04 290.85,526.87 291.91,525.83 293.09,525.36 294.42,524.53 295.85,524.01 297.3,523.65 298.79,523.46 300.29,523.57 301.79,523.42" fill="none" stroke="#000" stroke-width="1.8" stroke-linejoin="round" stroke-linecap="round"/>
<polyline points="277,555.46 277.79,554.18 278.58,552.77 279.38,551.57 280.19,550.23 281.02,549.03 281.88,547.78 282.77,546.88 283.66,545.58 284.54,544.22 285.4,542.83 286.23,541.58 287.03,540.42 287.79,539.08 288.55,537.94 289.31,536.55 290.08,535.24 290.88,533.6 291.72,532.33 292.61,531.29 293.59,530.34 294.63,529.28 295.73,527.99 296.88,527.15 298.08,526.33 299.32,525.5 300.62,524.76 302.03,524.26 303.52,524.35 305.01,524.47" fill="none" stroke="#000" stroke-width="1.8" stroke-linejoin="round" stroke-linecap="round"/>
<polyline points="282.9,553.11 283.77,551.93 284.64,550.76 285.51,549.31 286.38,548.02 287.25,546.9 288.11,545.7 288.98,544.61 289.85,543.35 290.69,542.28 291.49,540.98 292.26,539.63 293.04,538.02 293.84,536.7 294.68,535.54 295.61,534.57 296.63,533.5 297.78,532.42 299.04,531.55 300.37,530.71 301.74,530.28 303.14,529.79 304.55,529.32 305.96,528.55 307.36,527.99 308.79,527.72 310.25,527.54 311.72,527.26" fill="none" stroke="#000" stroke-width="1.8" stroke-linejoin="round" stroke-linecap="round"/>
<polyline points="284.4,555.37 285.27,554.29 286.15,553.24 287.02,551.96 287.91,550.73 288.82,549.49 289.73,548.3 290.66,546.92 291.59,545.84 292.53,544.62 293.5,543.75 294.49,542.27 295.48,541.2 296.45,539.95 297.43,538.98 298.42,537.83 299.46,536.73 300.57,535.81 301.78,534.82 303.08,533.99 304.46,533.46 305.9,533.2 307.35,532.86 308.82,532.45 310.28,532.03 311.75,531.79 313.19,531.27 314.62,530.67 316.05,530.12 317.47,529.64 318.89,529.23 320.31,528.73 321.72,528.39 323.13,527.83 324.54,527.39 325.95,526.64 327.35,526.23" fill="none" stroke="#000" stroke-width="1.8" stroke-linejoin="round" stroke-linecap="round"/>
<polyline points="291,522.9 292.5,522.71 294,522.65 295.5,522.7 297,522.71 298.5,522.59 299.99,522.72 301.49,522.94 302.97,523.2 304.45,523.53 305.92,523.73 307.4,523.91 308.9,523.91 310.39,524.18 311.89,524.39 313.39,524.63 314.89,524.6 316.38,524.68 317.83,525 319.25,525.45 320.69,525.97 322.17,526.11 323.66,525.88 325.11,525.41 326.54,524.88 327.97,524.49" fill="none" stroke="#000" stroke-width="1.8" stroke-linejoin="round" stroke-linecap="round"/>
<polyline points="296,526.93 297.48,527.15 298.96,527.21 300.45,526.94 301.94,527.15 303.43,527.27 304.93,527.39 306.43,527.32 307.91,526.96 309.4,526.85 310.89,526.65 312.39,526.69 313.88,526.98 315.35,527.36 316.82,527.66 318.29,527.7 319.79,527.78 321.28,527.8 322.76,527.56 324.21,527.11 325.66,526.71" fill="none" stroke="#000" stroke-width="1.8" stroke-linejoin="round" stroke-linecap="round"/>
<polyline points="271,553.97 271.86,552.83 272.72,551.65 273.58,550.61 274.44,549.44 275.3,548.24 276.16,546.94 277.02,545.71 277.88,544.48 278.74,543.02 279.58,541.73 280.43,540.43 281.27,539.47 282.12,538.16 282.97,536.97 283.85,535.63 284.75,534.58 285.67,533.36 286.59,532.12 287.52,530.8 288.46,529.58 289.44,528.49 290.47,527.36 291.56,526.41 292.78,525.71 294.14,525.05 295.59,524.62 297.06,524.16" fill="none" stroke="#000" stroke-width="1.8" stroke-linejoin="round" stroke-linecap="round"/>
<polyline points="280,552.05 280.9,550.73 281.79,549.47 282.69,548.2 283.59,547.17 284.49,546.04 285.39,544.8 286.3,543.46 287.2,542.32 288.1,541.31 288.99,540.22 289.9,539 290.82,537.71 291.76,536.41 292.73,535.22 293.73,534.03 294.74,533.05 295.77,531.98 296.84,530.84 297.96,529.92 299.15,529.19 300.45,528.53 301.84,527.91 303.29,527.37 304.76,527.18 306.24,526.76 307.72,526.49" fill="none" stroke="#000" stroke-width="1.8" stroke-linejoin="round" stroke-linecap="round"/>
<polyline points="288,550.11 288.81,548.98 289.61,547.56 290.42,546.3 291.23,544.9 292.06,543.73 292.91,542.45 293.8,541.22 294.75,539.91 295.72,538.69 296.75,537.76 297.82,536.82 298.95,536.01 300.14,535.07 301.36,534.05 302.62,533.23 303.91,532.52 305.23,532 306.58,531.14 307.96,530.06 309.4,529.4 310.86,529.41 312.34,529.47 313.83,529.36 315.32,529.11 316.79,528.8 318.27,528.57 319.74,528.31 321.21,528.17 322.69,527.87" fill="none" stroke="#000" stroke-width="1.8" stroke-linejoin="round" stroke-linecap="round"/>
<polyline points="300,525.48 301.38,524.93 302.75,524.25 304.16,523.94 305.63,523.87 307.11,524.03 308.47,524.3 309.79,524.72 311.17,525.41 312.65,525.87 314.09,525.61 315.47,524.91 316.89,524.25 318.38,524.24 319.76,524.76 321.04,525.73 322.34,526.33 323.77,526.94 325.24,526.68 326.62,526.19 327.93,525.47 329.21,524.61" fill="none" stroke="#000" stroke-width="1.8" stroke-linejoin="round" stroke-linecap="round"/>
<polyline points="58,622.9 59.02,621.8 60.03,620.88 61.05,619.92 62.09,618.8 63.15,617.59 64.25,616.27 65.37,615.27 66.52,614.53 67.69,613.57 68.86,612.85 70.03,611.86 71.22,611.02 72.42,609.75 73.63,608.85 74.84,608.11 76.07,607.18 77.31,606.48 78.56,605.79 79.81,605.29 81.08,604.38 82.36,603.72 83.65,603.08 84.95,602.13 86.26,601.03 87.57,600.09 88.89,599.48 90.21,598.42 91.53,597.85 92.85,597.07 94.18,596.74 95.5,595.91 96.83,595.43 98.15,594.65 99.47,593.85 100.79,593.09 102.11,592.62 103.42,591.97 104.73,591.37 106.04,590.46 107.34,589.68 108.64,588.95 109.94,588.04 111.24,587.52 112.53,586.46 113.83,585.89 115.12,584.79 116.41,583.98 117.7,583.31 118.99,582.75 120.28,582.11 121.56,581.12 122.85,580.38 124.13,579.38 125.41,578.5 126.68,577.62 127.96,576.91 129.23,576.18 130.5,575.39 131.76,574.69 133.02,573.94 134.26,573.36 135.49,572.68 136.71,572.03 137.93,570.9 139.14,569.78 140.35,568.49 141.56,567.55 142.77,566.43 143.98,565.67 145.2,564.97 146.43,564.67 147.67,564.06 148.94,563.01 150.22,562.07 151.53,561.06 152.88,560.66 154.25,559.98 155.66,559.7 157.08,559.5 158.52,559.24 159.97,559.07 161.43,558.34 162.88,557.77 164.32,557.19 165.73,556.94 167.11,556.32 168.43,555.41 169.65,554.08 170.78,553.14 171.82,552.18 172.81,551.26 173.78,550.06 174.77,548.59 175.83,547.6 177,546.87 178.28,546.38 179.63,545.71 181.03,544.86 182.46,544.58 183.9,544.12 185.35,543.91 186.8,543.38 188.25,542.68 189.69,542.28 191.11,541.67 192.5,541.49 193.85,541.04 195.15,540.39 196.43,539.27 197.68,538.18 198.9,537.28 200.12,536.7 201.31,535.65 202.51,534.46 203.7,533.54" fill="none" stroke="#000" stroke-width="2.3" stroke-linejoin="round" stroke-linecap="round"/>
<polyline points="204,533.09 204.4,531.64 204.8,529.97 205.21,528.67 205.63,526.94 206.07,525.64 206.51,524.24 206.96,523.08 207.42,521.71 207.89,519.96 208.38,518.7 208.9,517.14 209.46,515.89 210.05,514.39 210.67,513.05 211.32,511.76 212,510.27 212.72,508.99 213.48,507.6 214.53,506.65 215.91,506.21 217.4,506.12 218.9,506.11 220.4,506.02 221.89,505.99 223.38,506.17 224.87,506.45 226.37,506.52 227.87,506.52 229.37,506.31 230.86,506.11 232.35,505.92" fill="none" stroke="#000" stroke-width="1.8" stroke-linejoin="round" stroke-linecap="round"/>
<polyline points="206.5,531.98 206.89,530.54 207.28,529.15 207.69,527.7 208.11,526.26 208.57,524.52 209.06,523.16 209.56,521.6 210.08,520.32 210.62,518.91 211.18,517.69 211.77,516.5 212.37,515.21 213.01,513.91 213.7,512.41 214.48,511.07 215.35,509.7 216.41,508.48 217.76,507.86 219.23,507.84 220.73,508 222.23,507.95 223.73,507.99 225.22,508.06 226.7,508.24 228.2,508.08 229.69,507.92 231.13,507.53 232.51,507.07" fill="none" stroke="#000" stroke-width="1.8" stroke-linejoin="round" stroke-linecap="round"/>
<polyline points="208,530.18 208.49,528.66 208.98,526.98 209.48,525.56 209.99,524.09 210.52,522.76 211.07,521.45 211.64,520.27 212.21,518.93 212.82,517.36 213.48,515.81 214.19,514.56 214.96,513.51 215.84,512.31 216.87,511.12 218.06,510.1 219.44,509.72 220.91,509.46 222.41,509.39 223.91,509.41 225.41,509.42 226.9,509.32 228.38,508.87 229.85,508.55" fill="none" stroke="#000" stroke-width="1.8" stroke-linejoin="round" stroke-linecap="round"/>
<polyline points="84,591.93 85.09,590.65 86.17,590.1 87.26,589.3 88.35,588.56 89.46,587.45 90.58,586.36 91.73,585.53 92.9,584.54 94.09,583.74 95.28,582.77 96.48,582.02 97.68,581.19 98.86,580.06 100.04,579.23 101.21,577.94 102.38,576.99 103.55,575.75 104.72,575.02 105.89,574.06 107.07,573.3 108.25,572.13 109.42,571.5 110.59,570.82 111.74,570.06 112.87,569.17 114,567.99 115.13,567.29 116.24,566.05 117.36,564.73 118.47,563.62 119.57,562.56 120.66,561.62 121.76,560.28 122.87,559.04 123.99,558.17 125.11,557.11 126.23,556.59 127.36,555.72 128.49,554.64 129.63,553.22 130.77,552.07 131.94,551.09 133.13,550.39 134.35,549.59 135.6,548.93 136.86,548.06 138.13,547.34 139.4,546.86 140.65,546.34 141.94,545.51 143.24,544.67 144.48,543.5 145.64,542.6 146.65,541.23 147.55,540.24 148.36,538.74 149.14,537.45 149.92,536.06 150.71,535.06 151.58,533.76 152.55,532.54 153.72,531.55 155.05,531.1 156.45,530.52 157.84,529.95 159.11,529.08 160.27,528.47 161.35,527.5 162.4,526.26 163.43,524.63 164.48,523.5 165.55,522.82 166.58,522.09 167.53,521.05 168.33,519.53 168.92,517.92 169.36,516.47 169.73,515.1 170.06,513.94 170.43,512.17 170.93,510.77 171.53,509.2 171.82,508.06 171.99,506.46 172.12,504.96 172.22,503.26 172.33,501.85" fill="none" stroke="#000" stroke-width="2.3" stroke-linejoin="round" stroke-linecap="round"/>
<polyline points="121.9,542.09 122.92,540.88 123.95,539.45 124.98,538.19 126,537.43 127.01,536.2 128.01,535.11 129,533.86 129.98,533.17 130.94,532.13 131.89,530.99 132.84,529.76 133.78,528.77 134.72,527.49 135.65,526.44 136.57,525.15 137.49,524.18 138.4,522.58 139.29,521.49 140.17,519.85 141.04,518.57 141.9,517.28 142.75,516.11 143.58,515.15 144.38,513.65 145.15,512.73 145.87,511.35 146.54,510 147.1,508.39 147.53,507.09 147.86,505.68 148.12,504.25 148.37,502.95 148.67,501.73 148.94,500.17 149.19,498.3 149.43,496.68" fill="none" stroke="#000" stroke-width="2.4" stroke-linejoin="round" stroke-linecap="round"/>
<polyline points="116.9,531.12 117.59,529.35 118.27,527.82 118.94,526.55 119.63,525.93 120.34,524.73 121.07,523.44 121.83,521.71 122.63,520.49 123.49,519.29 124.42,518.2 125.41,516.99 126.43,516.02 127.47,515.04 128.5,513.99 129.52,513.07 130.5,512.17 131.41,510.72 132.23,509.65 132.87,508.07 133.34,507.08 133.62,505.11 133.77,503.65 133.83,501.99 133.86,500.62 133.92,499.2 134.05,497.77 134.2,496.11 134.33,494.47 134.44,492.99 134.55,491.75 134.66,490.22 134.76,488.6" fill="none" stroke="#000" stroke-width="2.4" stroke-linejoin="round" stroke-linecap="round"/>
<polyline points="110,524.36 110.44,522.77 110.87,521.18 111.3,520 111.75,518.68 112.21,517.46 112.7,515.69 113.23,514.54 113.81,513.41 114.42,512.12 115.05,510.64 115.69,508.9 116.31,507.84 116.91,506.53 117.5,505.13 118.08,503.67 118.65,502.2 119.22,501 119.75,499.46 120.24,497.89 120.66,496.31 121.01,494.89 121.29,493.51 121.54,491.97 121.76,490.7 122,489.21" fill="none" stroke="#000" stroke-width="2.3" stroke-linejoin="round" stroke-linecap="round"/>
<polyline points="102.5,523.01 102.89,521.46 103.27,520.15 103.66,518.93 104.05,517.62 104.46,516.2 104.88,514.39 105.31,512.87 105.77,511.24 106.24,510.04 106.72,508.75 107.21,507.09 107.7,506.14 108.19,504.52 108.68,503.46 109.19,501.7 109.69,500.55 110.2,499.12 110.69,497.14 111.18,495.43 111.64,494.08 112.07,492.94 112.48,491.5 112.86,489.58 113.23,488.26" fill="none" stroke="#000" stroke-width="2.3" stroke-linejoin="round" stroke-linecap="round"/>
<polyline points="98.75,517.77 99.09,516.18 99.42,514.52 99.76,512.96 100.1,511.47 100.45,509.99 100.81,508.58 101.16,507.38 101.52,506.15 101.88,504.66 102.25,503.05 102.62,501.47 103,499.92 103.39,498.35 103.8,497.02 104.22,495.61 104.64,494.38 105.06,492.87 105.46,491.31 105.87,489.95 106.27,488.4" fill="none" stroke="#000" stroke-width="2.3" stroke-linejoin="round" stroke-linecap="round"/>
<polyline points="64.5,608.56 65.09,607.24 65.68,605.68 66.27,603.99 66.86,602.51 67.45,601.24" fill="none" stroke="#000" stroke-width="2.0" stroke-linejoin="round" stroke-linecap="round"/>
<polygon points="105.8,489.5 106.5,486.3 109,486.2 111,487.5 110.5,489.5 108,489" fill="#000" stroke="#000" stroke-width="0.8" stroke-linejoin="round"/>
<polygon points="112.5,490 113.2,487.6 116,487.4 117.5,488.5 116.5,490 114,489.8" fill="#000" stroke="#000" stroke-width="0.8" stroke-linejoin="round"/>
<polygon points="120.8,492 121.5,487 123,485.8 126,486.5 125,489 123.5,493.5" fill="#000" stroke="#000" stroke-width="0.8" stroke-linejoin="round"/>
<polygon points="132.5,494 133.5,485 135,482.8 137.5,484 139,486 136.5,489 135,495" fill="#000" stroke="#000" stroke-width="0.8" stroke-linejoin="round"/>
<polygon points="148,496 148.8,492.5 152,491.8 155.5,492.5 153,494.5 150.5,497.5" fill="#000" stroke="#000" stroke-width="0.8" stroke-linejoin="round"/>
<polygon points="171.6,504 172.3,496.8 176,496.2 182,496.6 184.8,497.5 183,498.8 177,500.3 173.6,505" fill="#000" stroke="#000" stroke-width="0.8" stroke-linejoin="round"/>
<polygon points="214,506.3 220,505.5 228,505.2 233,506 232,508.3 224,509.3 217,510" fill="#000" stroke="#000" stroke-width="0.8" stroke-linejoin="round"/>
<polyline points="59.1,623.3 59.36,622.25 59.74,620.73 60.17,619.04 60.59,617.43 61.01,615.96 61.43,614.5 61.87,613.03 62.3,611.56 62.75,610.1 63.2,608.63 63.65,607.16 64.11,605.7 64.57,604.23 65.03,602.76 65.5,601.29 65.97,599.83 66.44,598.36 66.92,596.89 67.4,595.43 67.88,593.96 68.36,592.49 68.85,591.03 69.34,589.56 69.83,588.09 70.32,586.62 70.82,585.16 71.31,583.69 71.81,582.22 72.31,580.76 72.81,579.29 73.32,577.82 73.82,576.35 74.33,574.89 74.84,573.42 75.35,571.95 75.86,570.49 76.37,569.02 76.89,567.55 77.4,566.09 77.92,564.62 78.37,563.28 78.78,562.02 79.27,560.6 80,558.75 81.04,556.32 82.32,553.46 83.68,550.44 85,547.5 86.22,544.75 87.42,542.03 88.66,539.24 90,536.25 91.53,532.87 93.2,529.22 94.83,525.64 96.25,522.5 97.35,520.11 98.24,518.2 99.08,516.26 100,513.75 101.08,510.38 102.24,506.48 103.38,502.47 104.4,498.75 105.28,495.27 106.07,491.88 106.8,488.79 107.5,486.25 108.21,484.41 108.91,483.11 109.52,482.13 110,481.25 110.3,480.44 110.46,479.81 110.54,479.34 110.6,479" fill="none" stroke="#ff1a1a" stroke-width="1.15" stroke-dasharray="1.7 2.1"/>
<polyline points="59.1,623.3 59.41,622.25 59.86,620.73 60.36,619.04 60.86,617.43 61.35,615.96 61.85,614.5 62.36,613.03 62.88,611.56 63.4,610.1 63.93,608.63 64.46,607.16 65,605.7 65.55,604.23 66.09,602.76 66.65,601.29 67.2,599.83 67.76,598.36 68.32,596.89 68.89,595.43 69.46,593.96 70.03,592.49 70.6,591.03 71.18,589.56 71.75,588.09 72.34,586.62 72.92,585.16 73.51,583.69 74.09,582.22 74.68,580.76 75.28,579.29 75.87,577.82 76.47,576.35 77.06,574.89 77.66,573.42 78.26,571.95 78.87,570.49 79.47,569.02 80.08,567.55 80.69,566.09 81.3,564.62 81.82,563.31 82.28,562.1 82.87,560.68 83.75,558.75 85.02,556.12 86.56,552.99 88.26,549.62 90,546.25 91.79,542.9 93.67,539.45 95.6,535.97 97.5,532.5 99.43,529.06 101.41,525.62 103.3,522.19 105,518.75 106.43,515.4 107.66,512.11 108.81,508.7 110,505 111.31,500.62 112.66,495.78 113.93,491.17 115,487.5 115.85,485.05 116.53,483.42 117.07,482.27 117.5,481.25 117.78,480.35 117.91,479.73 117.96,479.31 118,479" fill="none" stroke="#ff1a1a" stroke-width="1.15" stroke-dasharray="1.7 2.1"/>
<polyline points="59.1,623.3 59.47,622.25 60.01,620.73 60.62,619.04 61.22,617.43 61.8,615.96 62.41,614.5 63.02,613.03 63.65,611.56 64.27,610.1 64.91,608.63 65.55,607.16 66.2,605.7 66.85,604.23 67.51,602.76 68.18,601.29 68.84,599.83 69.52,598.36 70.19,596.89 70.87,595.43 71.56,593.96 72.24,592.49 72.93,591.03 73.63,589.56 74.32,588.09 75.02,586.62 75.72,585.16 76.43,583.69 77.13,582.22 77.84,580.76 78.56,579.29 79.27,577.82 79.99,576.35 80.71,574.89 81.43,573.42 82.15,571.95 82.88,570.49 83.6,569.02 84.33,567.55 85.07,566.09 85.8,564.62 86.4,563.34 86.91,562.18 87.6,560.77 88.75,558.75 90.5,555.9 92.68,552.45 95.09,548.71 97.5,545 99.97,541.31 102.58,537.5 105.15,533.69 107.5,530 109.56,526.62 111.44,523.44 113.22,520.1 115,516.25 116.81,511.57 118.59,506.33 120.33,501.04 122,496.25 123.72,491.85 125.46,487.64 126.99,483.99 128.1,481.25 128.63,479.74 128.73,479.19 128.64,479.11 128.6,479" fill="none" stroke="#ff1a1a" stroke-width="1.15" stroke-dasharray="1.7 2.1"/>
<polyline points="59.1,623.3 59.55,622.25 60.2,620.73 60.94,619.04 61.67,617.43 62.37,615.96 63.1,614.5 63.85,613.03 64.6,611.56 65.36,610.1 66.13,608.63 66.91,607.16 67.7,605.7 68.49,604.23 69.29,602.76 70.09,601.29 70.9,599.83 71.71,598.36 72.53,596.89 73.35,595.43 74.18,593.96 75.01,592.49 75.85,591.03 76.69,589.56 77.53,588.09 78.38,586.62 79.23,585.16 80.08,583.69 80.94,582.22 81.8,580.76 82.66,579.29 83.52,577.82 84.39,576.35 85.26,574.89 86.13,573.42 87.01,571.95 87.89,570.49 88.77,569.02 89.65,567.55 90.54,566.09 91.43,564.62 92.2,563.37 92.89,562.25 93.74,560.86 95,558.75 96.82,555.55 99.05,551.59 101.44,547.45 103.75,543.75 105.96,540.58 108.17,537.64 110.37,534.95 112.5,532.5 114.59,530.42 116.64,528.66 118.62,527 120.5,525.2 122.25,523.21 123.91,521.16 125.48,519.07 127,517 128.46,515.07 129.84,513.22 131.18,511.2 132.5,508.75 133.81,505.68 135.11,502.18 136.35,498.52 137.5,495 138.6,491.44 139.66,487.77 140.57,484.44 141.25,481.9 141.61,480.39 141.71,479.63 141.7,479.28 141.7,479" fill="none" stroke="#ff1a1a" stroke-width="1.15" stroke-dasharray="1.7 2.1"/>
<polyline points="59.1,623.3 59.69,622.25 60.55,620.73 61.52,619.04 62.47,617.43 63.4,615.96 64.36,614.5 65.34,613.03 66.33,611.56 67.33,610.1 68.34,608.63 69.36,607.16 70.39,605.7 71.43,604.23 72.48,602.76 73.53,601.29 74.6,599.83 75.66,598.36 76.74,596.89 77.82,595.43 78.91,593.96 80,592.49 81.1,591.03 82.2,589.56 83.31,588.09 84.42,586.62 85.53,585.16 86.65,583.69 87.78,582.22 88.91,580.76 90.04,579.29 91.18,577.82 92.32,576.35 93.46,574.89 94.61,573.42 95.76,571.95 96.91,570.49 98.07,569.02 99.23,567.55 100.39,566.09 101.56,564.62 102.66,563.22 103.73,561.86 104.88,560.42 106.25,558.75 107.91,556.77 109.78,554.56 111.76,552.26 113.75,550 115.68,547.89 117.61,545.82 119.67,543.66 122,541.25 124.82,538.44 128,535.35 131.12,532.24 133.75,529.4 135.66,526.96 137.1,524.74 138.44,522.58 140,520.3 141.99,517.73 144.2,515.01 146.33,512.4 148.1,510.2 149.33,508.71 150.21,507.72 151.01,506.66 152,505 153.28,502.45 154.7,499.36 156.14,496.09 157.5,493 158.83,489.99 160.16,486.94 161.33,484.16 162.2,482 162.65,480.62 162.79,479.81 162.79,479.35 162.8,479" fill="none" stroke="#ff1a1a" stroke-width="1.15" stroke-dasharray="1.7 2.1"/>
<polyline points="59.1,623.3 59.43,622.75 59.9,621.96 60.44,621.08 60.96,620.24 61.48,619.48 62.01,618.72 62.55,617.95 63.1,617.19 63.65,616.42 64.21,615.66 64.77,614.9 65.34,614.13 65.92,613.37 66.5,612.61 67.08,611.84 67.67,611.08 68.26,610.31 68.85,609.55 69.45,608.79 70.05,608.02 70.65,607.26 71.26,606.49 71.87,605.73 72.48,604.97 73.09,604.2 73.71,603.44 74.33,602.68 74.95,601.91 75.58,601.15 76.2,600.38 76.83,599.62 77.46,598.86 78.06,598.1 78.64,597.34 79.26,596.58 80,595.8 80.65,595.21 81.24,594.74 82.21,593.98 84,592.5 86.98,589.96 90.84,586.67 94.97,583.16 98.75,580 102.03,577.35 105.14,574.92 108.18,572.53 111.25,570 114.46,567.19 117.73,564.22 120.89,561.33 123.75,558.75 126.23,556.55 128.44,554.61 130.49,552.86 132.5,551.25 134.49,549.82 136.41,548.58 138.24,547.43 140,546.25 141.66,545.09 143.23,543.97 144.74,542.79 146.25,541.4 147.69,539.71 149.06,537.81 150.49,535.85 152.1,534 153.95,532.33 155.95,530.74 158.06,529.14 160.2,527.4 162.44,525.5 164.78,523.49 167.08,521.41 169.2,519.3 171.05,517.19 172.72,515.05 174.34,512.84 176,510.5 177.74,507.99 179.49,505.36 181.25,502.66 183,500 184.79,497.33 186.6,494.62 188.36,491.98 190,489.5 191.58,487.08 193.1,484.72 194.43,482.62 195.4,481 195.9,480 196.04,479.47 196,479.21 196,479" fill="none" stroke="#ff1a1a" stroke-width="1.15" stroke-dasharray="1.7 2.1"/>
<polyline points="59.1,623.3 59.45,622.91 59.96,622.35 60.53,621.72 61.1,621.13 61.65,620.58 62.21,620.04 62.8,619.5 63.38,618.96 63.97,618.41 64.57,617.87 65.18,617.33 65.79,616.78 66.41,616.24 67.03,615.7 67.65,615.15 68.28,614.61 68.91,614.07 69.55,613.52 70.19,612.98 70.83,612.44 71.48,611.9 72.13,611.35 72.78,610.81 73.44,610.27 74.1,609.72 74.76,609.18 75.42,608.64 76.09,608.09 76.76,607.55 77.43,607.01 78.1,606.47 78.78,605.92 78.93,605.65 78.74,605.56 79.25,605.11 81.5,603.75 86.18,601.14 92.61,597.65 99.73,593.76 106.5,590 112.87,586.4 119.31,582.73 125.6,579.07 131.5,575.5 136.93,571.9 142.03,568.28 146.86,564.89 151.5,562 156.02,559.79 160.38,558.09 164.41,556.6 168,555 170.84,553.26 173.09,551.53 175.3,549.79 178,548 181.48,546.15 185.41,544.26 189.38,542.36 193,540.5 196.14,538.67 199.03,536.85 201.78,535.08 204.5,533.4 207.21,531.87 209.84,530.44 212.43,529.02 215,527.5 217.54,525.85 220.03,524.13 222.51,522.35 225,520.5 227.51,518.62 230.03,516.69 232.54,514.66 235,512.5 237.5,510.15 240.03,507.66 242.42,505.08 244.5,502.5 246.21,499.88 247.66,497.19 248.89,494.53 250,492 250.98,489.53 251.81,487.09 252.48,484.86 253,483 253.31,481.55 253.44,480.44 253.47,479.6 253.5,479" fill="none" stroke="#ff1a1a" stroke-width="1.15" stroke-dasharray="1.7 2.1"/>
<polyline points="59.1,623.3 59.45,623.08 59.96,622.78 60.53,622.43 61.1,622.1 61.65,621.8 62.21,621.5 62.8,621.2 63.38,620.9 63.97,620.6 64.57,620.3 65.18,620 65.79,619.7 66.41,619.4 67.03,619.1 67.65,618.8 68.28,618.5 68.91,618.2 69.55,617.9 70.19,617.6 70.83,617.3 71.48,617 72.13,616.7 72.78,616.4 73.44,616.1 74.1,615.8 74.76,615.5 75.42,615.2 76.09,614.9 76.76,614.6 77.43,614.3 78.1,614 78.78,613.7 78.93,613.62 78.74,613.69 79.25,613.47 81.5,612.5 86.18,610.4 92.61,607.5 99.73,604.42 106.5,601.8 112.48,599.87 118.28,598.26 124.44,596.73 131.5,595 139.92,593 149.31,590.87 158.92,588.68 168,586.5 176.74,584.26 185.41,581.95 193.37,579.74 200,577.8 204.59,576.23 207.67,574.92 210.41,573.73 214,572.5 218.81,571.2 224.2,569.92 229.81,568.65 235.3,567.4 240.79,566.15 246.39,564.9 251.74,563.7 256.5,562.6 260.22,561.68 263.2,560.88 266.21,560.07 270,559.1 274.46,558.08 279.28,557.03 284.96,555.69 292,553.75 301.88,550.68 313.88,546.79 325.19,543.07 333,540.5" fill="none" stroke="#ff1a1a" stroke-width="1.15" stroke-dasharray="1.7 2.1"/>
<polyline points="62.1,631.3 64.41,630.94 67.71,630.42 71.44,629.85 75,629.3 78.5,628.77 82.16,628.22 85.59,627.71 88.4,627.3 89.89,627.05 90.48,626.92 91.42,626.81 94,626.6 98.32,626.26 103.79,625.85 110.61,625.41 119,625 128.72,624.65 139.75,624.32 152.66,623.96 168,623.5 186.84,622.86 208.56,622.09 231.26,621.36 253,620.8 275.23,620.49 298.31,620.33 318.74,620.26 333,620.2" fill="none" stroke="#ff1a1a" stroke-width="1.15" stroke-dasharray="1.7 2.1"/>
<rect x="232" y="486" width="26" height="18" fill="#fff"/>
<rect x="44" y="478.6" width="450.8" height="161.19999999999993" fill="none" stroke="#555" stroke-width="1.1"/>
<line x1="44" y1="615.45" x2="48.5" y2="615.45" stroke="#222" stroke-width="1.1"/>
<line x1="490.5" y1="615.45" x2="494.8" y2="615.45" stroke="#222" stroke-width="1.1"/>
<line x1="44" y1="570.5" x2="48.5" y2="570.5" stroke="#222" stroke-width="1.1"/>
<line x1="490.5" y1="570.5" x2="494.8" y2="570.5" stroke="#222" stroke-width="1.1"/>
<line x1="44" y1="525.55" x2="48.5" y2="525.55" stroke="#222" stroke-width="1.1"/>
<line x1="490.5" y1="525.55" x2="494.8" y2="525.55" stroke="#222" stroke-width="1.1"/>
<line x1="44" y1="480.6" x2="48.5" y2="480.6" stroke="#222" stroke-width="1.1"/>
<line x1="490.5" y1="480.6" x2="494.8" y2="480.6" stroke="#222" stroke-width="1.1"/>
<line x1="53.6" y1="639.8" x2="53.6" y2="635.5999999999999" stroke="#222" stroke-width="1.1"/>
<line x1="53.6" y1="478.6" x2="53.6" y2="482.8" stroke="#222" stroke-width="1.1"/>
<line x1="129.35" y1="639.8" x2="129.35" y2="635.5999999999999" stroke="#222" stroke-width="1.1"/>
<line x1="129.35" y1="478.6" x2="129.35" y2="482.8" stroke="#222" stroke-width="1.1"/>
<line x1="205.1" y1="639.8" x2="205.1" y2="635.5999999999999" stroke="#222" stroke-width="1.1"/>
<line x1="205.1" y1="478.6" x2="205.1" y2="482.8" stroke="#222" stroke-width="1.1"/>
<line x1="280.85" y1="639.8" x2="280.85" y2="635.5999999999999" stroke="#222" stroke-width="1.1"/>
<line x1="280.85" y1="478.6" x2="280.85" y2="482.8" stroke="#222" stroke-width="1.1"/>
<line x1="356.6" y1="639.8" x2="356.6" y2="635.5999999999999" stroke="#222" stroke-width="1.1"/>
<line x1="356.6" y1="478.6" x2="356.6" y2="482.8" stroke="#222" stroke-width="1.1"/>
<line x1="432.35" y1="639.8" x2="432.35" y2="635.5999999999999" stroke="#222" stroke-width="1.1"/>
<line x1="432.35" y1="478.6" x2="432.35" y2="482.8" stroke="#222" stroke-width="1.1"/>
<rect x="333.7" y="516.3" width="156.8" height="118.5" fill="#fff" stroke="#444" stroke-width="1.1"/>
<rect x="345.1" y="526.7" width="3.2" height="3.1" fill="#000"/>
<line x1="339" y1="549.55" x2="355.2" y2="549.55" stroke="#ff1a1a" stroke-width="3.3" stroke-dasharray="1.6 2.15"/>
<g fill="#000"><text x="1.8" y="11.6" font-size="21" text-anchor="start" font-weight="bold">a</text>
<text x="1.8" y="256.6" font-size="21" text-anchor="start" font-weight="bold">b</text>
<text x="0" y="484.4" font-size="21" text-anchor="start" font-weight="bold">c</text>
<text x="66" y="41.1" font-size="15" text-anchor="end" >2.91</text>
<text x="66" y="74.6" font-size="15" text-anchor="end" >2.78</text>
<text x="66" y="108.1" font-size="15" text-anchor="end" >1</text>
<text x="66" y="141.4" font-size="15" text-anchor="end" >0.34</text>
<text x="66" y="174.9" font-size="15" text-anchor="end" >0.16</text>
<text x="152.9" y="202" font-size="15" text-anchor="end" >−300</text>
<text x="230.65" y="202" font-size="15" text-anchor="end" >−200</text>
<text x="308.4" y="202" font-size="15" text-anchor="end" >−100</text>
<text x="371.95" y="202" font-size="15" text-anchor="middle" >0</text>
<text x="450.5" y="202" font-size="15" text-anchor="middle" >100</text>
<text x="282.5" y="221.8" font-size="15" text-anchor="middle" >Position (nm)</text>
<text transform="translate(24.2,94) rotate(-90)" font-size="15" text-anchor="middle"><tspan font-style="italic">B</tspan><tspan font-style="italic" font-size="10" dy="3.5">z</tspan><tspan dy="-3.5"> (T)</tspan></text>
<text x="122.4" y="22" font-size="15" text-anchor="start" >Guiding center</text>
<text x="122.4" y="39.9" font-size="15" text-anchor="start" >Center of mass</text>
<text x="233.6" y="97.1" font-size="15" text-anchor="start" >Hard wall</text>
<text x="266.3" y="163.6" font-size="15" text-anchor="start" font-style="italic">Y</text>
<text x="139" y="74.6" font-size="15" style="font-family:'Liberation Serif','Times New Roman',serif" font-style="italic">Ψ</text>
<text x="150.9" y="79" font-size="10">LL</text>
<text x="161.8" y="82.7" font-size="8.5">1</text>
<text x="171" y="75" font-size="15">(<tspan font-style="italic">B</tspan><tspan font-style="italic" font-size="10" dy="3.5">z</tspan><tspan dy="-3.5">)</tspan></text>
<text x="381.3" y="154.8" font-size="15" style="font-family:'Liberation Serif','Times New Roman',serif" font-style="italic">σ</text>
<text x="389.6" y="158.9" font-size="10" letter-spacing="0.9"><tspan font-style="italic">n</tspan>=1</text>
<text x="37.8" y="391.85" font-size="15" text-anchor="end" >0</text>
<text x="37.8" y="346.9" font-size="15" text-anchor="end" >1</text>
<text x="37.8" y="301.95" font-size="15" text-anchor="end" >2</text>
<text x="37.8" y="257" font-size="15" text-anchor="end" >3</text>
<text x="53.6" y="426.6" font-size="15" text-anchor="middle" >0.0</text>
<text x="129.35" y="426.6" font-size="15" text-anchor="middle" >0.5</text>
<text x="205.1" y="426.6" font-size="15" text-anchor="middle" >1.0</text>
<text x="280.85" y="426.6" font-size="15" text-anchor="middle" >1.5</text>
<text x="356.6" y="426.6" font-size="15" text-anchor="middle" >2.0</text>
<text x="432.35" y="426.6" font-size="15" text-anchor="middle" >2.5</text>
<text x="251.3" y="449.2" font-size="15"><tspan font-style="italic">B</tspan><tspan font-style="italic" font-size="10" dy="3.5">z</tspan><tspan dy="-3.5"> (T)</tspan></text>
<text transform="translate(12.8,329) rotate(-90)" font-size="15" text-anchor="middle"><tspan font-style="italic">B</tspan><tspan font-style="italic" font-size="10" dy="3.5">y</tspan><tspan dy="-3.5"> (T)</tspan></text>
<text x="233.0" y="265.9" font-size="15">LL<tspan font-size="10" dy="4">2</tspan></text>
<text x="289.2" y="287.3" font-size="15">LL<tspan font-size="10" dy="4">1</tspan></text>
<text x="277.8" y="381.6" font-size="15">LL<tspan font-size="10" dy="4">0</tspan></text>
<text x="356.6" y="279.5" font-size="15">Analytical model</text>
<text x="364.2" y="303.0" font-size="15">LL - LW<tspan font-size="10" dy="4">2</tspan></text>
<text x="363" y="323.0" font-size="15">Theory</text>
<text x="341" y="343.8" font-size="15"><tspan font-style="italic">Δy</tspan><tspan font-size="10" dy="4">2</tspan><tspan dy="-4"> = 16 nm</tspan></text>
<text x="341.5" y="372.2" font-size="15"><tspan font-style="italic">n</tspan><tspan font-size="10" dy="4">2DEG</tspan><tspan dy="-4"> = 1.59*10</tspan><tspan font-size="10" dy="-6">15</tspan><tspan dy="6"> m</tspan><tspan font-size="10" dy="-6">−2</tspan></text>
<text x="341.5" y="393.6" font-size="15"><tspan font-style="italic">ħ</tspan><tspan font-style="italic" style="font-family:'Liberation Serif','Times New Roman',serif">γ</tspan><tspan font-size="10" dy="4">2</tspan><tspan dy="-4" font-style="italic">/ed</tspan><tspan dy="0"> = 1.52 T</tspan></text>
<text x="37.8" y="621.85" font-size="15" text-anchor="end" >0</text>
<text x="37.8" y="576.9" font-size="15" text-anchor="end" >1</text>
<text x="37.8" y="531.95" font-size="15" text-anchor="end" >2</text>
<text x="37.8" y="487" font-size="15" text-anchor="end" >3</text>
<text x="53.6" y="656.6" font-size="15" text-anchor="middle" >0.0</text>
<text x="129.35" y="656.6" font-size="15" text-anchor="middle" >0.5</text>
<text x="205.1" y="656.6" font-size="15" text-anchor="middle" >1.0</text>
<text x="280.85" y="656.6" font-size="15" text-anchor="middle" >1.5</text>
<text x="356.6" y="656.6" font-size="15" text-anchor="middle" >2.0</text>
<text x="432.35" y="656.6" font-size="15" text-anchor="middle" >2.5</text>
<text x="251.3" y="680.2" font-size="15"><tspan font-style="italic">B</tspan><tspan font-style="italic" font-size="10" dy="3.5">z</tspan><tspan dy="-3.5"> (T)</tspan></text>
<text transform="translate(12.8,559) rotate(-90)" font-size="15" text-anchor="middle"><tspan font-style="italic">B</tspan><tspan font-style="italic" font-size="10" dy="3.5">y</tspan><tspan dy="-3.5"> (T)</tspan></text>
<text x="233.0" y="495.9" font-size="15">LL<tspan font-size="10" dy="4">2</tspan></text>
<text x="289.2" y="517.3" font-size="15">LL<tspan font-size="10" dy="4">1</tspan></text>
<text x="255.3" y="607.6" font-size="15">LL<tspan font-size="10" dy="4">0</tspan></text>
<text x="350.0" y="509.5" font-size="15">Numerical solution</text>
<text x="362.7" y="533.0" font-size="15">LL - LW<tspan font-size="10" dy="4">2</tspan></text>
<text x="363" y="553.0" font-size="15">Theory</text>
<text x="339.5" y="573.8" font-size="15"><tspan font-style="italic">Δy</tspan><tspan font-size="10" dy="4">2</tspan><tspan dy="-4"> = 24 nm</tspan></text>
<text x="340.0" y="600.2" font-size="15"><tspan font-style="italic">n</tspan><tspan font-size="10" dy="4">2DEG</tspan><tspan dy="-4"> = 1.64*10</tspan><tspan font-size="10" dy="-6">15</tspan><tspan dy="6"> m</tspan><tspan font-size="10" dy="-6">−2</tspan></text>
<text x="340.0" y="623.6" font-size="15"><tspan font-style="italic">ħ</tspan><tspan font-style="italic" style="font-family:'Liberation Serif','Times New Roman',serif">γ</tspan><tspan font-size="10" dy="4">2</tspan><tspan dy="-4" font-style="italic">/ed</tspan><tspan dy="0"> = 1.61 T</tspan></text></g>
</svg></body></html>
